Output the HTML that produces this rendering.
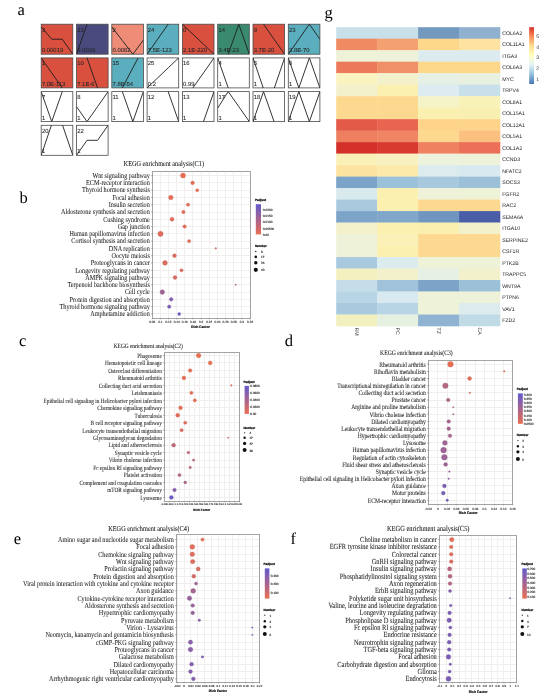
<!DOCTYPE html><html><head><meta charset="utf-8"><style>html,body{margin:0;padding:0;background:#fff;}svg{display:block;will-change:transform;text-rendering:geometricPrecision}.r{font-family:"Liberation Serif",serif;stroke:#262626;stroke-width:0.06px}.a{stroke:#333;stroke-width:0.08px}.L{font-family:"Liberation Serif",serif}.s{font-family:"Liberation Sans",sans-serif}</style></head><body>
<svg width="550" height="699" viewBox="0 0 550 699">
<rect width="550" height="699" fill="#fff"/>
<text x="17.5" y="15.3" class="L" font-size="16.5">a</text>
<defs>
<clipPath id="cp0"><rect x="41.20" y="24.20" width="31.6" height="30.0"/></clipPath>
<clipPath id="cp1"><rect x="76.50" y="24.20" width="31.6" height="30.0"/></clipPath>
<clipPath id="cp2"><rect x="111.80" y="24.20" width="31.6" height="30.0"/></clipPath>
<clipPath id="cp3"><rect x="147.10" y="24.20" width="31.6" height="30.0"/></clipPath>
<clipPath id="cp4"><rect x="182.40" y="24.20" width="31.6" height="30.0"/></clipPath>
<clipPath id="cp5"><rect x="217.70" y="24.20" width="31.6" height="30.0"/></clipPath>
<clipPath id="cp6"><rect x="253.00" y="24.20" width="31.6" height="30.0"/></clipPath>
<clipPath id="cp7"><rect x="288.30" y="24.20" width="31.6" height="30.0"/></clipPath>
<clipPath id="cp8"><rect x="41.20" y="57.90" width="31.6" height="30.0"/></clipPath>
<clipPath id="cp9"><rect x="76.50" y="57.90" width="31.6" height="30.0"/></clipPath>
<clipPath id="cp10"><rect x="111.80" y="57.90" width="31.6" height="30.0"/></clipPath>
<clipPath id="cp11"><rect x="147.10" y="57.90" width="31.6" height="30.0"/></clipPath>
<clipPath id="cp12"><rect x="182.40" y="57.90" width="31.6" height="30.0"/></clipPath>
<clipPath id="cp13"><rect x="217.70" y="57.90" width="31.6" height="30.0"/></clipPath>
<clipPath id="cp14"><rect x="253.00" y="57.90" width="31.6" height="30.0"/></clipPath>
<clipPath id="cp15"><rect x="288.30" y="57.90" width="31.6" height="30.0"/></clipPath>
<clipPath id="cp16"><rect x="41.20" y="91.60" width="31.6" height="30.0"/></clipPath>
<clipPath id="cp17"><rect x="76.50" y="91.60" width="31.6" height="30.0"/></clipPath>
<clipPath id="cp18"><rect x="111.80" y="91.60" width="31.6" height="30.0"/></clipPath>
<clipPath id="cp19"><rect x="147.10" y="91.60" width="31.6" height="30.0"/></clipPath>
<clipPath id="cp20"><rect x="182.40" y="91.60" width="31.6" height="30.0"/></clipPath>
<clipPath id="cp21"><rect x="217.70" y="91.60" width="31.6" height="30.0"/></clipPath>
<clipPath id="cp22"><rect x="253.00" y="91.60" width="31.6" height="30.0"/></clipPath>
<clipPath id="cp23"><rect x="288.30" y="91.60" width="31.6" height="30.0"/></clipPath>
<clipPath id="cp24"><rect x="41.20" y="125.30" width="31.6" height="30.0"/></clipPath>
<clipPath id="cp25"><rect x="76.50" y="125.30" width="31.6" height="30.0"/></clipPath>
</defs>
<rect x="41.20" y="24.20" width="31.6" height="30.0" fill="#d9503f" stroke="#4a4a4a" stroke-width="0.8"/>
<polyline clip-path="url(#cp0)" points="41.20,26.90 51.73,39.20 62.27,39.20 72.80,54.20" fill="none" stroke="#1e1e1e" stroke-width="0.9"/>
<text x="41.90" y="31.60" class="s a" font-size="5.9" fill="#222">3</text>
<text x="41.90" y="52.20" class="s a" font-size="5.9" fill="#222">0.00019</text>
<rect x="76.50" y="24.20" width="31.6" height="30.0" fill="#4b4a7e" stroke="#4a4a4a" stroke-width="0.8"/>
<polyline clip-path="url(#cp1)" points="76.50,54.20 87.03,24.20 97.57,-5.80 108.10,-35.80" fill="none" stroke="#1e1e1e" stroke-width="0.9"/>
<text x="77.20" y="31.60" class="s a" font-size="5.9" fill="#222">21</text>
<text x="77.20" y="52.20" class="s a" font-size="5.9" fill="#222">0.0029</text>
<rect x="111.80" y="24.20" width="31.6" height="30.0" fill="#ee8c78" stroke="#4a4a4a" stroke-width="0.8"/>
<polyline clip-path="url(#cp2)" points="111.80,26.90 122.33,40.55 132.87,54.20 143.40,40.10" fill="none" stroke="#1e1e1e" stroke-width="0.9"/>
<text x="112.50" y="31.60" class="s a" font-size="5.9" fill="#222">2</text>
<text x="112.50" y="52.20" class="s a" font-size="5.9" fill="#222">0.0082</text>
<rect x="147.10" y="24.20" width="31.6" height="30.0" fill="#5aaebd" stroke="#4a4a4a" stroke-width="0.8"/>
<polyline clip-path="url(#cp3)" points="147.10,54.20 157.63,39.20 168.17,24.20 178.70,9.20" fill="none" stroke="#1e1e1e" stroke-width="0.9"/>
<text x="147.80" y="31.60" class="s a" font-size="5.9" fill="#222">24</text>
<text x="147.80" y="52.20" class="s a" font-size="5.9" fill="#222">7.5E-123</text>
<rect x="182.40" y="24.20" width="31.6" height="30.0" fill="#d9503f" stroke="#4a4a4a" stroke-width="0.8"/>
<polyline clip-path="url(#cp4)" points="182.40,24.20 192.93,34.20 203.47,44.20 214.00,54.20" fill="none" stroke="#1e1e1e" stroke-width="0.9"/>
<text x="183.10" y="31.60" class="s a" font-size="5.9" fill="#222">0</text>
<text x="183.10" y="52.20" class="s a" font-size="5.9" fill="#222">2.1E-220</text>
<rect x="217.70" y="24.20" width="31.6" height="30.0" fill="#3a8a70" stroke="#4a4a4a" stroke-width="0.8"/>
<polyline clip-path="url(#cp5)" points="217.70,84.20 228.23,54.20 238.77,24.20 249.30,54.20" fill="none" stroke="#1e1e1e" stroke-width="0.9"/>
<text x="218.40" y="31.60" class="s a" font-size="5.9" fill="#222">14</text>
<text x="218.40" y="52.20" class="s a" font-size="5.9" fill="#222">3.4E-23</text>
<rect x="253.00" y="24.20" width="31.6" height="30.0" fill="#d9503f" stroke="#4a4a4a" stroke-width="0.8"/>
<polyline clip-path="url(#cp6)" points="253.00,-5.80 263.53,24.20 274.07,39.20 284.60,54.20" fill="none" stroke="#1e1e1e" stroke-width="0.9"/>
<text x="253.70" y="31.60" class="s a" font-size="5.9" fill="#222">9</text>
<text x="253.70" y="52.20" class="s a" font-size="5.9" fill="#222">3.7E-20</text>
<rect x="288.30" y="24.20" width="31.6" height="30.0" fill="#5aaebd" stroke="#4a4a4a" stroke-width="0.8"/>
<polyline clip-path="url(#cp7)" points="288.30,54.20 298.83,39.20 309.37,24.20 319.90,39.20" fill="none" stroke="#1e1e1e" stroke-width="0.9"/>
<text x="289.00" y="31.60" class="s a" font-size="5.9" fill="#222">23</text>
<text x="289.00" y="52.20" class="s a" font-size="5.9" fill="#222">3.8E-70</text>
<rect x="41.20" y="57.90" width="31.6" height="30.0" fill="#d9503f" stroke="#4a4a4a" stroke-width="0.8"/>
<polyline clip-path="url(#cp8)" points="41.20,57.90 51.73,72.90 62.27,87.90 72.80,102.90" fill="none" stroke="#1e1e1e" stroke-width="0.9"/>
<text x="41.90" y="65.30" class="s a" font-size="5.9" fill="#222">1</text>
<text x="41.90" y="85.90" class="s a" font-size="5.9" fill="#222">7.0E-113</text>
<rect x="76.50" y="57.90" width="31.6" height="30.0" fill="#d9503f" stroke="#4a4a4a" stroke-width="0.8"/>
<polyline clip-path="url(#cp9)" points="76.50,27.90 87.03,57.90 97.57,87.90 108.10,117.90" fill="none" stroke="#1e1e1e" stroke-width="0.9"/>
<text x="77.20" y="65.30" class="s a" font-size="5.9" fill="#222">10</text>
<text x="77.20" y="85.90" class="s a" font-size="5.9" fill="#222">7.1E-6</text>
<rect x="111.80" y="57.90" width="31.6" height="30.0" fill="#5aaebd" stroke="#4a4a4a" stroke-width="0.8"/>
<polyline clip-path="url(#cp10)" points="111.80,108.00 122.33,87.90 132.87,67.80 143.40,48.00" fill="none" stroke="#1e1e1e" stroke-width="0.9"/>
<text x="112.50" y="65.30" class="s a" font-size="5.9" fill="#222">15</text>
<text x="112.50" y="85.90" class="s a" font-size="5.9" fill="#222">7.8E-54</text>
<rect x="147.10" y="57.90" width="31.6" height="30.0" fill="#ffffff" stroke="#4a4a4a" stroke-width="0.8"/>
<polyline clip-path="url(#cp11)" points="147.10,87.90 157.63,77.90 168.17,67.90 178.70,57.90" fill="none" stroke="#1e1e1e" stroke-width="0.9"/>
<text x="147.80" y="65.30" class="s a" font-size="5.9" fill="#222">25</text>
<text x="147.80" y="85.90" class="s a" font-size="5.9" fill="#222">0.2</text>
<rect x="182.40" y="57.90" width="31.6" height="30.0" fill="#ffffff" stroke="#4a4a4a" stroke-width="0.8"/>
<polyline clip-path="url(#cp12)" points="182.40,102.90 192.93,87.90 203.47,72.90 214.00,57.90" fill="none" stroke="#1e1e1e" stroke-width="0.9"/>
<text x="183.10" y="65.30" class="s a" font-size="5.9" fill="#222">16</text>
<text x="183.10" y="85.90" class="s a" font-size="5.9" fill="#222">0.99</text>
<rect x="217.70" y="57.90" width="31.6" height="30.0" fill="#ffffff" stroke="#4a4a4a" stroke-width="0.8"/>
<polyline clip-path="url(#cp13)" points="217.70,57.90 228.23,87.90 238.77,117.90 249.30,117.90" fill="none" stroke="#1e1e1e" stroke-width="0.9"/>
<text x="218.40" y="65.30" class="s a" font-size="5.9" fill="#222">4</text>
<text x="218.40" y="85.90" class="s a" font-size="5.9" fill="#222">1</text>
<rect x="253.00" y="57.90" width="31.6" height="30.0" fill="#ffffff" stroke="#4a4a4a" stroke-width="0.8"/>
<polyline clip-path="url(#cp14)" points="253.00,57.90 263.53,88.80 274.07,88.80 284.60,57.90" fill="none" stroke="#1e1e1e" stroke-width="0.9"/>
<text x="253.70" y="65.30" class="s a" font-size="5.9" fill="#222">5</text>
<text x="253.70" y="85.90" class="s a" font-size="5.9" fill="#222">1</text>
<rect x="288.30" y="57.90" width="31.6" height="30.0" fill="#ffffff" stroke="#4a4a4a" stroke-width="0.8"/>
<polyline clip-path="url(#cp15)" points="288.30,57.90 298.83,87.90 309.37,57.90 319.90,87.90" fill="none" stroke="#1e1e1e" stroke-width="0.9"/>
<text x="289.00" y="65.30" class="s a" font-size="5.9" fill="#222">6</text>
<text x="289.00" y="85.90" class="s a" font-size="5.9" fill="#222">1</text>
<rect x="41.20" y="91.60" width="31.6" height="30.0" fill="#ffffff" stroke="#4a4a4a" stroke-width="0.8"/>
<polyline clip-path="url(#cp16)" points="41.20,91.60 51.73,121.60 62.27,91.60 72.80,61.60" fill="none" stroke="#1e1e1e" stroke-width="0.9"/>
<text x="41.90" y="99.00" class="s a" font-size="5.9" fill="#222">7</text>
<text x="41.90" y="119.60" class="s a" font-size="5.9" fill="#222">1</text>
<rect x="76.50" y="91.60" width="31.6" height="30.0" fill="#ffffff" stroke="#4a4a4a" stroke-width="0.8"/>
<polyline clip-path="url(#cp17)" points="76.50,106.60 87.03,121.60 97.57,106.60 108.10,91.60" fill="none" stroke="#1e1e1e" stroke-width="0.9"/>
<text x="77.20" y="99.00" class="s a" font-size="5.9" fill="#222">8</text>
<text x="77.20" y="119.60" class="s a" font-size="5.9" fill="#222">1</text>
<rect x="111.80" y="91.60" width="31.6" height="30.0" fill="#ffffff" stroke="#4a4a4a" stroke-width="0.8"/>
<polyline clip-path="url(#cp18)" points="111.80,61.60 122.33,91.60 132.87,121.60 143.40,91.60" fill="none" stroke="#1e1e1e" stroke-width="0.9"/>
<text x="112.50" y="99.00" class="s a" font-size="5.9" fill="#222">11</text>
<text x="112.50" y="119.60" class="s a" font-size="5.9" fill="#222">1</text>
<rect x="147.10" y="91.60" width="31.6" height="30.0" fill="#ffffff" stroke="#4a4a4a" stroke-width="0.8"/>
<polyline clip-path="url(#cp19)" points="147.10,31.60 157.63,61.60 168.17,91.60 178.70,121.60" fill="none" stroke="#1e1e1e" stroke-width="0.9"/>
<text x="147.80" y="99.00" class="s a" font-size="5.9" fill="#222">12</text>
<text x="147.80" y="119.60" class="s a" font-size="5.9" fill="#222">1</text>
<rect x="182.40" y="91.60" width="31.6" height="30.0" fill="#ffffff" stroke="#4a4a4a" stroke-width="0.8"/>
<polyline clip-path="url(#cp20)" points="182.40,181.60 192.93,151.60 203.47,121.60 214.00,91.60" fill="none" stroke="#1e1e1e" stroke-width="0.9"/>
<text x="183.10" y="99.00" class="s a" font-size="5.9" fill="#222">13</text>
<text x="183.10" y="119.60" class="s a" font-size="5.9" fill="#222">1</text>
<rect x="217.70" y="91.60" width="31.6" height="30.0" fill="#ffffff" stroke="#4a4a4a" stroke-width="0.8"/>
<polyline clip-path="url(#cp21)" points="217.70,108.10 228.23,91.60 238.77,106.60 249.30,121.60" fill="none" stroke="#1e1e1e" stroke-width="0.9"/>
<text x="218.40" y="99.00" class="s a" font-size="5.9" fill="#222">17</text>
<text x="218.40" y="119.60" class="s a" font-size="5.9" fill="#222">1</text>
<rect x="253.00" y="91.60" width="31.6" height="30.0" fill="#ffffff" stroke="#4a4a4a" stroke-width="0.8"/>
<polyline clip-path="url(#cp22)" points="253.00,121.60 263.53,91.60 274.07,121.60 284.60,151.60" fill="none" stroke="#1e1e1e" stroke-width="0.9"/>
<text x="253.70" y="99.00" class="s a" font-size="5.9" fill="#222">18</text>
<text x="253.70" y="119.60" class="s a" font-size="5.9" fill="#222">1</text>
<rect x="288.30" y="91.60" width="31.6" height="30.0" fill="#ffffff" stroke="#4a4a4a" stroke-width="0.8"/>
<polyline clip-path="url(#cp23)" points="288.30,121.60 298.83,91.60 309.37,121.60 319.90,91.60" fill="none" stroke="#1e1e1e" stroke-width="0.9"/>
<text x="289.00" y="99.00" class="s a" font-size="5.9" fill="#222">19</text>
<text x="289.00" y="119.60" class="s a" font-size="5.9" fill="#222">1</text>
<rect x="41.20" y="125.30" width="31.6" height="30.0" fill="#ffffff" stroke="#4a4a4a" stroke-width="0.8"/>
<polyline clip-path="url(#cp24)" points="41.20,155.30 51.73,124.40 62.27,124.40 72.80,155.30" fill="none" stroke="#1e1e1e" stroke-width="0.9"/>
<text x="41.90" y="132.70" class="s a" font-size="5.9" fill="#222">20</text>
<text x="41.90" y="153.30" class="s a" font-size="5.9" fill="#222">1</text>
<rect x="76.50" y="125.30" width="31.6" height="30.0" fill="#ffffff" stroke="#4a4a4a" stroke-width="0.8"/>
<polyline clip-path="url(#cp25)" points="76.50,155.30 87.03,140.30 97.57,140.30 108.10,125.30" fill="none" stroke="#1e1e1e" stroke-width="0.9"/>
<text x="77.20" y="132.70" class="s a" font-size="5.9" fill="#222">22</text>
<text x="77.20" y="153.30" class="s a" font-size="5.9" fill="#222">1</text>
<rect x="152.5" y="171.5" width="98.0" height="147.0" fill="#fff"/>
<line x1="152.50" y1="171.5" x2="152.50" y2="318.5" stroke="#f1eeee" stroke-width="1"/>
<line x1="160.50" y1="171.5" x2="160.50" y2="318.5" stroke="#f1eeee" stroke-width="1"/>
<line x1="168.50" y1="171.5" x2="168.50" y2="318.5" stroke="#f1eeee" stroke-width="1"/>
<line x1="176.50" y1="171.5" x2="176.50" y2="318.5" stroke="#f1eeee" stroke-width="1"/>
<line x1="184.50" y1="171.5" x2="184.50" y2="318.5" stroke="#f1eeee" stroke-width="1"/>
<line x1="192.50" y1="171.5" x2="192.50" y2="318.5" stroke="#f1eeee" stroke-width="1"/>
<line x1="201.50" y1="171.5" x2="201.50" y2="318.5" stroke="#f1eeee" stroke-width="1"/>
<line x1="209.50" y1="171.5" x2="209.50" y2="318.5" stroke="#f1eeee" stroke-width="1"/>
<line x1="217.50" y1="171.5" x2="217.50" y2="318.5" stroke="#f1eeee" stroke-width="1"/>
<line x1="225.50" y1="171.5" x2="225.50" y2="318.5" stroke="#f1eeee" stroke-width="1"/>
<line x1="233.50" y1="171.5" x2="233.50" y2="318.5" stroke="#f1eeee" stroke-width="1"/>
<line x1="241.50" y1="171.5" x2="241.50" y2="318.5" stroke="#f1eeee" stroke-width="1"/>
<line x1="250.50" y1="171.5" x2="250.50" y2="318.5" stroke="#f1eeee" stroke-width="1"/>
<line x1="152.5" y1="175.50" x2="250.5" y2="175.50" stroke="#f1eeee" stroke-width="1"/>
<line x1="152.5" y1="182.50" x2="250.5" y2="182.50" stroke="#f1eeee" stroke-width="1"/>
<line x1="152.5" y1="190.50" x2="250.5" y2="190.50" stroke="#f1eeee" stroke-width="1"/>
<line x1="152.5" y1="197.50" x2="250.5" y2="197.50" stroke="#f1eeee" stroke-width="1"/>
<line x1="152.5" y1="204.50" x2="250.5" y2="204.50" stroke="#f1eeee" stroke-width="1"/>
<line x1="152.5" y1="212.50" x2="250.5" y2="212.50" stroke="#f1eeee" stroke-width="1"/>
<line x1="152.5" y1="219.50" x2="250.5" y2="219.50" stroke="#f1eeee" stroke-width="1"/>
<line x1="152.5" y1="226.50" x2="250.5" y2="226.50" stroke="#f1eeee" stroke-width="1"/>
<line x1="152.5" y1="233.50" x2="250.5" y2="233.50" stroke="#f1eeee" stroke-width="1"/>
<line x1="152.5" y1="241.50" x2="250.5" y2="241.50" stroke="#f1eeee" stroke-width="1"/>
<line x1="152.5" y1="248.50" x2="250.5" y2="248.50" stroke="#f1eeee" stroke-width="1"/>
<line x1="152.5" y1="255.50" x2="250.5" y2="255.50" stroke="#f1eeee" stroke-width="1"/>
<line x1="152.5" y1="262.50" x2="250.5" y2="262.50" stroke="#f1eeee" stroke-width="1"/>
<line x1="152.5" y1="270.50" x2="250.5" y2="270.50" stroke="#f1eeee" stroke-width="1"/>
<line x1="152.5" y1="277.50" x2="250.5" y2="277.50" stroke="#f1eeee" stroke-width="1"/>
<line x1="152.5" y1="284.50" x2="250.5" y2="284.50" stroke="#f1eeee" stroke-width="1"/>
<line x1="152.5" y1="292.50" x2="250.5" y2="292.50" stroke="#f1eeee" stroke-width="1"/>
<line x1="152.5" y1="299.50" x2="250.5" y2="299.50" stroke="#f1eeee" stroke-width="1"/>
<line x1="152.5" y1="306.50" x2="250.5" y2="306.50" stroke="#f1eeee" stroke-width="1"/>
<line x1="152.5" y1="313.50" x2="250.5" y2="313.50" stroke="#f1eeee" stroke-width="1"/>
<rect x="152.5" y="171.5" width="98.0" height="147.0" fill="none" stroke="#a4a4a4" stroke-width="1"/>
<line x1="151.2" y1="175.60" x2="152.5" y2="175.60" stroke="#555" stroke-width="0.5"/>
<text transform="translate(149.80,177.90) scale(1,1.22)" text-anchor="end" class="r" font-size="6.2" fill="#262626">Wnt signaling pathway</text>
<circle cx="183.00" cy="175.60" r="2.5" fill="#ea6e52" stroke="#c75e46" stroke-width="0.35"/>
<line x1="151.2" y1="182.88" x2="152.5" y2="182.88" stroke="#555" stroke-width="0.5"/>
<text transform="translate(149.80,185.18) scale(1,1.22)" text-anchor="end" class="r" font-size="6.2" fill="#262626">ECM-receptor interaction</text>
<circle cx="192.60" cy="182.88" r="1.8" fill="#e76e54" stroke="#c45e47" stroke-width="0.35"/>
<line x1="151.2" y1="190.16" x2="152.5" y2="190.16" stroke="#555" stroke-width="0.5"/>
<text transform="translate(149.80,192.46) scale(1,1.22)" text-anchor="end" class="r" font-size="6.2" fill="#262626">Thyroid hormone synthesis</text>
<circle cx="197.20" cy="190.16" r="1.5" fill="#ea6e52" stroke="#c75e46" stroke-width="0.35"/>
<line x1="151.2" y1="197.44" x2="152.5" y2="197.44" stroke="#555" stroke-width="0.5"/>
<text transform="translate(149.80,199.74) scale(1,1.22)" text-anchor="end" class="r" font-size="6.2" fill="#262626">Focal adhesion</text>
<circle cx="170.80" cy="197.44" r="2.3" fill="#e66d56" stroke="#c45d49" stroke-width="0.35"/>
<line x1="151.2" y1="204.72" x2="152.5" y2="204.72" stroke="#555" stroke-width="0.5"/>
<text transform="translate(149.80,207.02) scale(1,1.22)" text-anchor="end" class="r" font-size="6.2" fill="#262626">Insulin secretion</text>
<circle cx="188.00" cy="204.72" r="1.6" fill="#e66d56" stroke="#c45d49" stroke-width="0.35"/>
<line x1="151.2" y1="212.00" x2="152.5" y2="212.00" stroke="#555" stroke-width="0.5"/>
<text transform="translate(149.80,214.30) scale(1,1.22)" text-anchor="end" class="r" font-size="6.2" fill="#262626">Aldosterone synthesis and secretion</text>
<circle cx="183.40" cy="212.00" r="1.7" fill="#e36d58" stroke="#c15d4b" stroke-width="0.35"/>
<line x1="151.2" y1="219.28" x2="152.5" y2="219.28" stroke="#555" stroke-width="0.5"/>
<text transform="translate(149.80,221.58) scale(1,1.22)" text-anchor="end" class="r" font-size="6.2" fill="#262626">Cushing syndrome</text>
<circle cx="172.00" cy="219.28" r="2.0" fill="#e36d58" stroke="#c15d4b" stroke-width="0.35"/>
<line x1="151.2" y1="226.56" x2="152.5" y2="226.56" stroke="#555" stroke-width="0.5"/>
<text transform="translate(149.80,228.86) scale(1,1.22)" text-anchor="end" class="r" font-size="6.2" fill="#262626">Gap junction</text>
<circle cx="184.60" cy="226.56" r="1.7" fill="#e56d57" stroke="#c35d4a" stroke-width="0.35"/>
<line x1="151.2" y1="233.84" x2="152.5" y2="233.84" stroke="#555" stroke-width="0.5"/>
<text transform="translate(149.80,236.14) scale(1,1.22)" text-anchor="end" class="r" font-size="6.2" fill="#262626">Human papillomavirus infection</text>
<circle cx="160.50" cy="233.84" r="2.6" fill="#df6c5c" stroke="#be5c4e" stroke-width="0.35"/>
<line x1="151.2" y1="241.12" x2="152.5" y2="241.12" stroke="#555" stroke-width="0.5"/>
<text transform="translate(149.80,243.42) scale(1,1.22)" text-anchor="end" class="r" font-size="6.2" fill="#262626">Cortisol synthesis and secretion</text>
<circle cx="189.10" cy="241.12" r="1.6" fill="#e36d58" stroke="#c15d4b" stroke-width="0.35"/>
<line x1="151.2" y1="248.40" x2="152.5" y2="248.40" stroke="#555" stroke-width="0.5"/>
<text transform="translate(149.80,250.70) scale(1,1.22)" text-anchor="end" class="r" font-size="6.2" fill="#262626">DNA replication</text>
<circle cx="215.80" cy="248.40" r="0.8" fill="#dc6c5e" stroke="#bb5c50" stroke-width="0.35"/>
<line x1="151.2" y1="255.68" x2="152.5" y2="255.68" stroke="#555" stroke-width="0.5"/>
<text transform="translate(149.80,257.98) scale(1,1.22)" text-anchor="end" class="r" font-size="6.2" fill="#262626">Oocyte meiosis</text>
<circle cx="174.50" cy="255.68" r="1.9" fill="#dc6c5e" stroke="#bb5c50" stroke-width="0.35"/>
<line x1="151.2" y1="262.96" x2="152.5" y2="262.96" stroke="#555" stroke-width="0.5"/>
<text transform="translate(149.80,265.26) scale(1,1.22)" text-anchor="end" class="r" font-size="6.2" fill="#262626">Proteoglycans in cancer</text>
<circle cx="165.00" cy="262.96" r="2.4" fill="#dc6c5e" stroke="#bb5c50" stroke-width="0.35"/>
<line x1="151.2" y1="270.24" x2="152.5" y2="270.24" stroke="#555" stroke-width="0.5"/>
<text transform="translate(149.80,272.54) scale(1,1.22)" text-anchor="end" class="r" font-size="6.2" fill="#262626">Longevity regulating pathway</text>
<circle cx="181.50" cy="270.24" r="1.6" fill="#da6c61" stroke="#b95c52" stroke-width="0.35"/>
<line x1="151.2" y1="277.52" x2="152.5" y2="277.52" stroke="#555" stroke-width="0.5"/>
<text transform="translate(149.80,279.82) scale(1,1.22)" text-anchor="end" class="r" font-size="6.2" fill="#262626">AMPK signaling pathway</text>
<circle cx="175.00" cy="277.52" r="1.9" fill="#da6c61" stroke="#b95c52" stroke-width="0.35"/>
<line x1="151.2" y1="284.80" x2="152.5" y2="284.80" stroke="#555" stroke-width="0.5"/>
<text transform="translate(149.80,287.10) scale(1,1.22)" text-anchor="end" class="r" font-size="6.2" fill="#262626">Terpenoid backbone biosynthesis</text>
<circle cx="235.70" cy="284.80" r="0.7" fill="#c16877" stroke="#a45865" stroke-width="0.35"/>
<line x1="151.2" y1="292.08" x2="152.5" y2="292.08" stroke="#555" stroke-width="0.5"/>
<text transform="translate(149.80,294.38) scale(1,1.22)" text-anchor="end" class="r" font-size="6.2" fill="#262626">Cell cycle</text>
<circle cx="162.30" cy="292.08" r="2.3" fill="#9f6396" stroke="#875480" stroke-width="0.35"/>
<line x1="151.2" y1="299.36" x2="152.5" y2="299.36" stroke="#555" stroke-width="0.5"/>
<text transform="translate(149.80,301.66) scale(1,1.22)" text-anchor="end" class="r" font-size="6.2" fill="#262626">Protein digestion and absorption</text>
<circle cx="171.20" cy="299.36" r="1.8" fill="#845faf" stroke="#705195" stroke-width="0.35"/>
<line x1="151.2" y1="306.64" x2="152.5" y2="306.64" stroke="#555" stroke-width="0.5"/>
<text transform="translate(149.80,308.94) scale(1,1.22)" text-anchor="end" class="r" font-size="6.2" fill="#262626">Thyroid hormone signaling pathway</text>
<circle cx="169.20" cy="306.64" r="1.7" fill="#7d5eb5" stroke="#6a509a" stroke-width="0.35"/>
<line x1="151.2" y1="313.92" x2="152.5" y2="313.92" stroke="#555" stroke-width="0.5"/>
<text transform="translate(149.80,316.22) scale(1,1.22)" text-anchor="end" class="r" font-size="6.2" fill="#262626">Amphetamine addiction</text>
<circle cx="179.20" cy="313.92" r="1.5" fill="#705cc2" stroke="#5f4ea5" stroke-width="0.35"/>
<line x1="152.20" y1="318.5" x2="152.20" y2="319.5" stroke="#555" stroke-width="0.4"/>
<text x="152.20" y="323.12" text-anchor="middle" class="s" font-size="3.1" fill="#333" stroke="#333" stroke-width="0.12">0.08</text>
<line x1="160.36" y1="318.5" x2="160.36" y2="319.5" stroke="#555" stroke-width="0.4"/>
<text x="160.36" y="323.12" text-anchor="middle" class="s" font-size="3.1" fill="#333" stroke="#333" stroke-width="0.12">0.1</text>
<line x1="168.52" y1="318.5" x2="168.52" y2="319.5" stroke="#555" stroke-width="0.4"/>
<text x="168.52" y="323.12" text-anchor="middle" class="s" font-size="3.1" fill="#333" stroke="#333" stroke-width="0.12">0.12</text>
<line x1="176.67" y1="318.5" x2="176.67" y2="319.5" stroke="#555" stroke-width="0.4"/>
<text x="176.67" y="323.12" text-anchor="middle" class="s" font-size="3.1" fill="#333" stroke="#333" stroke-width="0.12">0.14</text>
<line x1="184.83" y1="318.5" x2="184.83" y2="319.5" stroke="#555" stroke-width="0.4"/>
<text x="184.83" y="323.12" text-anchor="middle" class="s" font-size="3.1" fill="#333" stroke="#333" stroke-width="0.12">0.16</text>
<line x1="192.99" y1="318.5" x2="192.99" y2="319.5" stroke="#555" stroke-width="0.4"/>
<text x="192.99" y="323.12" text-anchor="middle" class="s" font-size="3.1" fill="#333" stroke="#333" stroke-width="0.12">0.18</text>
<line x1="201.15" y1="318.5" x2="201.15" y2="319.5" stroke="#555" stroke-width="0.4"/>
<text x="201.15" y="323.12" text-anchor="middle" class="s" font-size="3.1" fill="#333" stroke="#333" stroke-width="0.12">0.2</text>
<line x1="209.31" y1="318.5" x2="209.31" y2="319.5" stroke="#555" stroke-width="0.4"/>
<text x="209.31" y="323.12" text-anchor="middle" class="s" font-size="3.1" fill="#333" stroke="#333" stroke-width="0.12">0.22</text>
<line x1="217.47" y1="318.5" x2="217.47" y2="319.5" stroke="#555" stroke-width="0.4"/>
<text x="217.47" y="323.12" text-anchor="middle" class="s" font-size="3.1" fill="#333" stroke="#333" stroke-width="0.12">0.24</text>
<line x1="225.62" y1="318.5" x2="225.62" y2="319.5" stroke="#555" stroke-width="0.4"/>
<text x="225.62" y="323.12" text-anchor="middle" class="s" font-size="3.1" fill="#333" stroke="#333" stroke-width="0.12">0.26</text>
<line x1="233.78" y1="318.5" x2="233.78" y2="319.5" stroke="#555" stroke-width="0.4"/>
<text x="233.78" y="323.12" text-anchor="middle" class="s" font-size="3.1" fill="#333" stroke="#333" stroke-width="0.12">0.28</text>
<line x1="241.94" y1="318.5" x2="241.94" y2="319.5" stroke="#555" stroke-width="0.4"/>
<text x="241.94" y="323.12" text-anchor="middle" class="s" font-size="3.1" fill="#333" stroke="#333" stroke-width="0.12">0.3</text>
<line x1="250.10" y1="318.5" x2="250.10" y2="319.5" stroke="#555" stroke-width="0.4"/>
<text x="250.10" y="323.12" text-anchor="middle" class="s" font-size="3.1" fill="#333" stroke="#333" stroke-width="0.12">0.32</text>
<text x="200.4" y="328.14" text-anchor="middle" class="s" font-size="3.45" font-weight="bold" fill="#111" stroke="#111" stroke-width="0.18">Rich Factor</text>
<text transform="translate(163.8,166.0) scale(1,1.2)" text-anchor="middle" class="r" font-size="6.27" fill="#111" stroke="#111" stroke-width="0.2">KEGG enrichment analysis(C1)</text>
<defs><linearGradient id="gb" x1="0" y1="0" x2="0" y2="1"><stop offset="0" stop-color="#625ace"/><stop offset="1" stop-color="#ea6e52"/></linearGradient></defs>
<text x="254.9" y="201.20" class="s" font-size="3.1" font-weight="bold" fill="#111" stroke="#111" stroke-width="0.22">Padjust</text>
<rect x="255.80" y="204.2" width="5.2" height="30.20" fill="url(#gb)"/>
<text x="262.9" y="210.80" class="s" font-size="3.1" fill="#222" stroke="#222" stroke-width="0.12">0.0200</text>
<line x1="261.60" y1="209.30" x2="262.50" y2="209.30" stroke="#444" stroke-width="0.35"/>
<text x="262.9" y="217.08" class="s" font-size="3.1" fill="#222" stroke="#222" stroke-width="0.12">0.0150</text>
<line x1="261.60" y1="215.58" x2="262.50" y2="215.58" stroke="#444" stroke-width="0.35"/>
<text x="262.9" y="223.35" class="s" font-size="3.1" fill="#222" stroke="#222" stroke-width="0.12">0.0100</text>
<line x1="261.60" y1="221.85" x2="262.50" y2="221.85" stroke="#444" stroke-width="0.35"/>
<text x="262.9" y="229.62" class="s" font-size="3.1" fill="#222" stroke="#222" stroke-width="0.12">0.00500</text>
<line x1="261.60" y1="228.12" x2="262.50" y2="228.12" stroke="#444" stroke-width="0.35"/>
<text x="262.9" y="235.90" class="s" font-size="3.1" fill="#222" stroke="#222" stroke-width="0.12">0.00</text>
<line x1="261.60" y1="234.40" x2="262.50" y2="234.40" stroke="#444" stroke-width="0.35"/>
<text x="254.9" y="246.60" class="s" font-size="3.1" font-weight="bold" fill="#111" stroke="#111" stroke-width="0.22">Number</text>
<circle cx="255.8" cy="251.50" r="0.7" fill="#111"/>
<text x="261.0" y="253.00" class="s" font-size="3.1" fill="#222" stroke="#222" stroke-width="0.12">8</text>
<circle cx="255.8" cy="256.90" r="1.3" fill="#111"/>
<text x="261.0" y="258.40" class="s" font-size="3.1" fill="#222" stroke="#222" stroke-width="0.12">17</text>
<circle cx="255.8" cy="262.70" r="1.7" fill="#111"/>
<text x="261.0" y="264.20" class="s" font-size="3.1" fill="#222" stroke="#222" stroke-width="0.12">26</text>
<circle cx="255.8" cy="269.80" r="2.1" fill="#111"/>
<text x="261.0" y="271.30" class="s" font-size="3.1" fill="#222" stroke="#222" stroke-width="0.12">40</text>
<rect x="164.5" y="352.5" width="75.0" height="149.0" fill="#fff"/>
<line x1="164.50" y1="352.5" x2="164.50" y2="501.5" stroke="#f1eeee" stroke-width="1"/>
<line x1="169.50" y1="352.5" x2="169.50" y2="501.5" stroke="#f1eeee" stroke-width="1"/>
<line x1="174.50" y1="352.5" x2="174.50" y2="501.5" stroke="#f1eeee" stroke-width="1"/>
<line x1="179.50" y1="352.5" x2="179.50" y2="501.5" stroke="#f1eeee" stroke-width="1"/>
<line x1="184.50" y1="352.5" x2="184.50" y2="501.5" stroke="#f1eeee" stroke-width="1"/>
<line x1="189.50" y1="352.5" x2="189.50" y2="501.5" stroke="#f1eeee" stroke-width="1"/>
<line x1="194.50" y1="352.5" x2="194.50" y2="501.5" stroke="#f1eeee" stroke-width="1"/>
<line x1="199.50" y1="352.5" x2="199.50" y2="501.5" stroke="#f1eeee" stroke-width="1"/>
<line x1="204.50" y1="352.5" x2="204.50" y2="501.5" stroke="#f1eeee" stroke-width="1"/>
<line x1="209.50" y1="352.5" x2="209.50" y2="501.5" stroke="#f1eeee" stroke-width="1"/>
<line x1="214.50" y1="352.5" x2="214.50" y2="501.5" stroke="#f1eeee" stroke-width="1"/>
<line x1="219.50" y1="352.5" x2="219.50" y2="501.5" stroke="#f1eeee" stroke-width="1"/>
<line x1="224.50" y1="352.5" x2="224.50" y2="501.5" stroke="#f1eeee" stroke-width="1"/>
<line x1="229.50" y1="352.5" x2="229.50" y2="501.5" stroke="#f1eeee" stroke-width="1"/>
<line x1="234.50" y1="352.5" x2="234.50" y2="501.5" stroke="#f1eeee" stroke-width="1"/>
<line x1="239.50" y1="352.5" x2="239.50" y2="501.5" stroke="#f1eeee" stroke-width="1"/>
<line x1="164.5" y1="355.50" x2="239.5" y2="355.50" stroke="#f1eeee" stroke-width="1"/>
<line x1="164.5" y1="362.50" x2="239.5" y2="362.50" stroke="#f1eeee" stroke-width="1"/>
<line x1="164.5" y1="370.50" x2="239.5" y2="370.50" stroke="#f1eeee" stroke-width="1"/>
<line x1="164.5" y1="377.50" x2="239.5" y2="377.50" stroke="#f1eeee" stroke-width="1"/>
<line x1="164.5" y1="385.50" x2="239.5" y2="385.50" stroke="#f1eeee" stroke-width="1"/>
<line x1="164.5" y1="392.50" x2="239.5" y2="392.50" stroke="#f1eeee" stroke-width="1"/>
<line x1="164.5" y1="400.50" x2="239.5" y2="400.50" stroke="#f1eeee" stroke-width="1"/>
<line x1="164.5" y1="407.50" x2="239.5" y2="407.50" stroke="#f1eeee" stroke-width="1"/>
<line x1="164.5" y1="415.50" x2="239.5" y2="415.50" stroke="#f1eeee" stroke-width="1"/>
<line x1="164.5" y1="422.50" x2="239.5" y2="422.50" stroke="#f1eeee" stroke-width="1"/>
<line x1="164.5" y1="430.50" x2="239.5" y2="430.50" stroke="#f1eeee" stroke-width="1"/>
<line x1="164.5" y1="437.50" x2="239.5" y2="437.50" stroke="#f1eeee" stroke-width="1"/>
<line x1="164.5" y1="445.50" x2="239.5" y2="445.50" stroke="#f1eeee" stroke-width="1"/>
<line x1="164.5" y1="452.50" x2="239.5" y2="452.50" stroke="#f1eeee" stroke-width="1"/>
<line x1="164.5" y1="460.50" x2="239.5" y2="460.50" stroke="#f1eeee" stroke-width="1"/>
<line x1="164.5" y1="467.50" x2="239.5" y2="467.50" stroke="#f1eeee" stroke-width="1"/>
<line x1="164.5" y1="475.50" x2="239.5" y2="475.50" stroke="#f1eeee" stroke-width="1"/>
<line x1="164.5" y1="482.50" x2="239.5" y2="482.50" stroke="#f1eeee" stroke-width="1"/>
<line x1="164.5" y1="489.50" x2="239.5" y2="489.50" stroke="#f1eeee" stroke-width="1"/>
<line x1="164.5" y1="497.50" x2="239.5" y2="497.50" stroke="#f1eeee" stroke-width="1"/>
<rect x="164.5" y="352.5" width="75.0" height="149.0" fill="none" stroke="#a4a4a4" stroke-width="1"/>
<line x1="163.2" y1="355.50" x2="164.5" y2="355.50" stroke="#555" stroke-width="0.5"/>
<text transform="translate(161.80,357.80) scale(1,1.22)" text-anchor="end" class="r" font-size="5.3" fill="#262626">Phagosome</text>
<circle cx="198.60" cy="355.50" r="2.3" fill="#ea6e52" stroke="#c75e46" stroke-width="0.35"/>
<line x1="163.2" y1="362.97" x2="164.5" y2="362.97" stroke="#555" stroke-width="0.5"/>
<text transform="translate(161.80,365.27) scale(1,1.22)" text-anchor="end" class="r" font-size="5.3" fill="#262626">Hematopoietic cell lineage</text>
<circle cx="210.20" cy="362.97" r="1.9" fill="#ea6e52" stroke="#c75e46" stroke-width="0.35"/>
<line x1="163.2" y1="370.44" x2="164.5" y2="370.44" stroke="#555" stroke-width="0.5"/>
<text transform="translate(161.80,372.74) scale(1,1.22)" text-anchor="end" class="r" font-size="5.3" fill="#262626">Osteoclast differentiation</text>
<circle cx="190.20" cy="370.44" r="1.8" fill="#e76e54" stroke="#c45e47" stroke-width="0.35"/>
<line x1="163.2" y1="377.91" x2="164.5" y2="377.91" stroke="#555" stroke-width="0.5"/>
<text transform="translate(161.80,380.21) scale(1,1.22)" text-anchor="end" class="r" font-size="5.3" fill="#262626">Rheumatoid arthritis</text>
<circle cx="183.90" cy="377.91" r="1.9" fill="#e76e54" stroke="#c45e47" stroke-width="0.35"/>
<line x1="163.2" y1="385.38" x2="164.5" y2="385.38" stroke="#555" stroke-width="0.5"/>
<text transform="translate(161.80,387.68) scale(1,1.22)" text-anchor="end" class="r" font-size="5.3" fill="#262626">Collecting duct acid secretion</text>
<circle cx="231.40" cy="385.38" r="0.8" fill="#e76e54" stroke="#c45e47" stroke-width="0.35"/>
<line x1="163.2" y1="392.85" x2="164.5" y2="392.85" stroke="#555" stroke-width="0.5"/>
<text transform="translate(161.80,395.15) scale(1,1.22)" text-anchor="end" class="r" font-size="5.3" fill="#262626">Leishmaniasis</text>
<circle cx="191.40" cy="392.85" r="1.6" fill="#e66d56" stroke="#c45d49" stroke-width="0.35"/>
<line x1="163.2" y1="400.32" x2="164.5" y2="400.32" stroke="#555" stroke-width="0.5"/>
<text transform="translate(161.80,402.62) scale(1,1.22)" text-anchor="end" class="r" font-size="5.3" fill="#262626">Epithelial cell signaling in Helicobacter pylori infection</text>
<circle cx="194.80" cy="400.32" r="1.6" fill="#e66d56" stroke="#c45d49" stroke-width="0.35"/>
<line x1="163.2" y1="407.79" x2="164.5" y2="407.79" stroke="#555" stroke-width="0.5"/>
<text transform="translate(161.80,410.09) scale(1,1.22)" text-anchor="end" class="r" font-size="5.3" fill="#262626">Chemokine signaling pathway</text>
<circle cx="180.50" cy="407.79" r="1.9" fill="#e56d57" stroke="#c35d4a" stroke-width="0.35"/>
<line x1="163.2" y1="415.26" x2="164.5" y2="415.26" stroke="#555" stroke-width="0.5"/>
<text transform="translate(161.80,417.56) scale(1,1.22)" text-anchor="end" class="r" font-size="5.3" fill="#262626">Tuberculosis</text>
<circle cx="177.70" cy="415.26" r="1.9" fill="#e56d57" stroke="#c35d4a" stroke-width="0.35"/>
<line x1="163.2" y1="422.73" x2="164.5" y2="422.73" stroke="#555" stroke-width="0.5"/>
<text transform="translate(161.80,425.03) scale(1,1.22)" text-anchor="end" class="r" font-size="5.3" fill="#262626">B cell receptor signaling pathway</text>
<circle cx="185.20" cy="422.73" r="1.6" fill="#df6c5c" stroke="#be5c4e" stroke-width="0.35"/>
<line x1="163.2" y1="430.20" x2="164.5" y2="430.20" stroke="#555" stroke-width="0.5"/>
<text transform="translate(161.80,432.50) scale(1,1.22)" text-anchor="end" class="r" font-size="5.3" fill="#262626">Leukocyte transendothelial migration</text>
<circle cx="181.60" cy="430.20" r="1.6" fill="#da6c61" stroke="#b95c52" stroke-width="0.35"/>
<line x1="163.2" y1="437.67" x2="164.5" y2="437.67" stroke="#555" stroke-width="0.5"/>
<text transform="translate(161.80,439.97) scale(1,1.22)" text-anchor="end" class="r" font-size="5.3" fill="#262626">Glycosaminoglycan degradation</text>
<circle cx="228.20" cy="437.67" r="0.7" fill="#cf6a6b" stroke="#b05a5b" stroke-width="0.35"/>
<line x1="163.2" y1="445.14" x2="164.5" y2="445.14" stroke="#555" stroke-width="0.5"/>
<text transform="translate(161.80,447.44) scale(1,1.22)" text-anchor="end" class="r" font-size="5.3" fill="#262626">Lipid and atherosclerosis</text>
<circle cx="173.60" cy="445.14" r="1.9" fill="#c16877" stroke="#a45865" stroke-width="0.35"/>
<line x1="163.2" y1="452.61" x2="164.5" y2="452.61" stroke="#555" stroke-width="0.5"/>
<text transform="translate(161.80,454.91) scale(1,1.22)" text-anchor="end" class="r" font-size="5.3" fill="#262626">Synaptic vesicle cycle</text>
<circle cx="188.40" cy="452.61" r="1.3" fill="#c16877" stroke="#a45865" stroke-width="0.35"/>
<line x1="163.2" y1="460.08" x2="164.5" y2="460.08" stroke="#555" stroke-width="0.5"/>
<text transform="translate(161.80,462.38) scale(1,1.22)" text-anchor="end" class="r" font-size="5.3" fill="#262626">Vibrio cholerae infection</text>
<circle cx="193.60" cy="460.08" r="1.2" fill="#c16877" stroke="#a45865" stroke-width="0.35"/>
<line x1="163.2" y1="467.55" x2="164.5" y2="467.55" stroke="#555" stroke-width="0.5"/>
<text transform="translate(161.80,469.85) scale(1,1.22)" text-anchor="end" class="r" font-size="5.3" fill="#262626">Fc epsilon RI signaling pathway</text>
<circle cx="190.20" cy="467.55" r="1.2" fill="#be687a" stroke="#a25868" stroke-width="0.35"/>
<line x1="163.2" y1="475.02" x2="164.5" y2="475.02" stroke="#555" stroke-width="0.5"/>
<text transform="translate(161.80,477.32) scale(1,1.22)" text-anchor="end" class="r" font-size="5.3" fill="#262626">Platelet activation</text>
<circle cx="179.50" cy="475.02" r="1.6" fill="#b46684" stroke="#995770" stroke-width="0.35"/>
<line x1="163.2" y1="482.49" x2="164.5" y2="482.49" stroke="#555" stroke-width="0.5"/>
<text transform="translate(161.80,484.79) scale(1,1.22)" text-anchor="end" class="r" font-size="5.3" fill="#262626">Complement and coagulation cascades</text>
<circle cx="185.20" cy="482.49" r="1.4" fill="#ad658a" stroke="#935675" stroke-width="0.35"/>
<line x1="163.2" y1="489.96" x2="164.5" y2="489.96" stroke="#555" stroke-width="0.5"/>
<text transform="translate(161.80,492.26) scale(1,1.22)" text-anchor="end" class="r" font-size="5.3" fill="#262626">mTOR signaling pathway</text>
<circle cx="174.50" cy="489.96" r="1.8" fill="#845faf" stroke="#705195" stroke-width="0.35"/>
<line x1="163.2" y1="497.43" x2="164.5" y2="497.43" stroke="#555" stroke-width="0.5"/>
<text transform="translate(161.80,499.73) scale(1,1.22)" text-anchor="end" class="r" font-size="5.3" fill="#262626">Lysosome</text>
<circle cx="171.40" cy="497.43" r="1.9" fill="#695bc8" stroke="#594daa" stroke-width="0.35"/>
<line x1="164.10" y1="501.5" x2="164.10" y2="502.5" stroke="#555" stroke-width="0.4"/>
<text x="164.10" y="505.44" text-anchor="middle" class="s" font-size="2.6" fill="#333" stroke="#333" stroke-width="0.12">0.08</text>
<line x1="169.13" y1="501.5" x2="169.13" y2="502.5" stroke="#555" stroke-width="0.4"/>
<text x="169.13" y="505.44" text-anchor="middle" class="s" font-size="2.6" fill="#333" stroke="#333" stroke-width="0.12">0.09</text>
<line x1="174.15" y1="501.5" x2="174.15" y2="502.5" stroke="#555" stroke-width="0.4"/>
<text x="174.15" y="505.44" text-anchor="middle" class="s" font-size="2.6" fill="#333" stroke="#333" stroke-width="0.12">0.1</text>
<line x1="179.18" y1="501.5" x2="179.18" y2="502.5" stroke="#555" stroke-width="0.4"/>
<text x="179.18" y="505.44" text-anchor="middle" class="s" font-size="2.6" fill="#333" stroke="#333" stroke-width="0.12">0.11</text>
<line x1="184.21" y1="501.5" x2="184.21" y2="502.5" stroke="#555" stroke-width="0.4"/>
<text x="184.21" y="505.44" text-anchor="middle" class="s" font-size="2.6" fill="#333" stroke="#333" stroke-width="0.12">0.12</text>
<line x1="189.23" y1="501.5" x2="189.23" y2="502.5" stroke="#555" stroke-width="0.4"/>
<text x="189.23" y="505.44" text-anchor="middle" class="s" font-size="2.6" fill="#333" stroke="#333" stroke-width="0.12">0.13</text>
<line x1="194.26" y1="501.5" x2="194.26" y2="502.5" stroke="#555" stroke-width="0.4"/>
<text x="194.26" y="505.44" text-anchor="middle" class="s" font-size="2.6" fill="#333" stroke="#333" stroke-width="0.12">0.14</text>
<line x1="199.29" y1="501.5" x2="199.29" y2="502.5" stroke="#555" stroke-width="0.4"/>
<text x="199.29" y="505.44" text-anchor="middle" class="s" font-size="2.6" fill="#333" stroke="#333" stroke-width="0.12">0.15</text>
<line x1="204.31" y1="501.5" x2="204.31" y2="502.5" stroke="#555" stroke-width="0.4"/>
<text x="204.31" y="505.44" text-anchor="middle" class="s" font-size="2.6" fill="#333" stroke="#333" stroke-width="0.12">0.16</text>
<line x1="209.34" y1="501.5" x2="209.34" y2="502.5" stroke="#555" stroke-width="0.4"/>
<text x="209.34" y="505.44" text-anchor="middle" class="s" font-size="2.6" fill="#333" stroke="#333" stroke-width="0.12">0.17</text>
<line x1="214.37" y1="501.5" x2="214.37" y2="502.5" stroke="#555" stroke-width="0.4"/>
<text x="214.37" y="505.44" text-anchor="middle" class="s" font-size="2.6" fill="#333" stroke="#333" stroke-width="0.12">0.18</text>
<line x1="219.39" y1="501.5" x2="219.39" y2="502.5" stroke="#555" stroke-width="0.4"/>
<text x="219.39" y="505.44" text-anchor="middle" class="s" font-size="2.6" fill="#333" stroke="#333" stroke-width="0.12">0.19</text>
<line x1="224.42" y1="501.5" x2="224.42" y2="502.5" stroke="#555" stroke-width="0.4"/>
<text x="224.42" y="505.44" text-anchor="middle" class="s" font-size="2.6" fill="#333" stroke="#333" stroke-width="0.12">0.2</text>
<line x1="229.45" y1="501.5" x2="229.45" y2="502.5" stroke="#555" stroke-width="0.4"/>
<text x="229.45" y="505.44" text-anchor="middle" class="s" font-size="2.6" fill="#333" stroke="#333" stroke-width="0.12">0.21</text>
<line x1="234.47" y1="501.5" x2="234.47" y2="502.5" stroke="#555" stroke-width="0.4"/>
<text x="234.47" y="505.44" text-anchor="middle" class="s" font-size="2.6" fill="#333" stroke="#333" stroke-width="0.12">0.22</text>
<line x1="239.50" y1="501.5" x2="239.50" y2="502.5" stroke="#555" stroke-width="0.4"/>
<text x="239.50" y="505.44" text-anchor="middle" class="s" font-size="2.6" fill="#333" stroke="#333" stroke-width="0.12">0.23</text>
<text x="201.8" y="510.71" text-anchor="middle" class="s" font-size="3.07" font-weight="bold" fill="#111" stroke="#111" stroke-width="0.18">Rich Factor</text>
<text transform="translate(148.2,347.5) scale(1,1.2)" text-anchor="middle" class="r" font-size="5.39" fill="#111" stroke="#111" stroke-width="0.2">KEGG enrichment analysis(C2)</text>
<defs><linearGradient id="gc" x1="0" y1="0" x2="0" y2="1"><stop offset="0" stop-color="#625ace"/><stop offset="1" stop-color="#ea6e52"/></linearGradient></defs>
<text x="243.4" y="383.00" class="s" font-size="3.1" font-weight="bold" fill="#111" stroke="#111" stroke-width="0.22">Padjust</text>
<rect x="244.60" y="385.9" width="4.3" height="28.00" fill="url(#gc)"/>
<text x="250.3" y="387.40" class="s" font-size="3.1" fill="#222" stroke="#222" stroke-width="0.12">0.0800</text>
<line x1="249.50" y1="385.90" x2="250.40" y2="385.90" stroke="#444" stroke-width="0.35"/>
<text x="250.3" y="394.40" class="s" font-size="3.1" fill="#222" stroke="#222" stroke-width="0.12">0.0600</text>
<line x1="249.50" y1="392.90" x2="250.40" y2="392.90" stroke="#444" stroke-width="0.35"/>
<text x="250.3" y="401.40" class="s" font-size="3.1" fill="#222" stroke="#222" stroke-width="0.12">0.0400</text>
<line x1="249.50" y1="399.90" x2="250.40" y2="399.90" stroke="#444" stroke-width="0.35"/>
<text x="250.3" y="408.40" class="s" font-size="3.1" fill="#222" stroke="#222" stroke-width="0.12">0.0200</text>
<line x1="249.50" y1="406.90" x2="250.40" y2="406.90" stroke="#444" stroke-width="0.35"/>
<text x="250.3" y="415.40" class="s" font-size="3.1" fill="#222" stroke="#222" stroke-width="0.12">0.00</text>
<line x1="249.50" y1="413.90" x2="250.40" y2="413.90" stroke="#444" stroke-width="0.35"/>
<text x="243.4" y="428.80" class="s" font-size="3.1" font-weight="bold" fill="#111" stroke="#111" stroke-width="0.22">Number</text>
<circle cx="244.6" cy="432.80" r="0.6" fill="#111"/>
<text x="249.4" y="434.30" class="s" font-size="3.1" fill="#222" stroke="#222" stroke-width="0.12">4</text>
<circle cx="244.6" cy="437.70" r="1.2" fill="#111"/>
<text x="249.4" y="439.20" class="s" font-size="3.1" fill="#222" stroke="#222" stroke-width="0.12">17</text>
<circle cx="244.6" cy="443.40" r="1.6" fill="#111"/>
<text x="249.4" y="444.90" class="s" font-size="3.1" fill="#222" stroke="#222" stroke-width="0.12">27</text>
<circle cx="244.6" cy="450.00" r="2.0" fill="#111"/>
<text x="249.4" y="451.50" class="s" font-size="3.1" fill="#222" stroke="#222" stroke-width="0.12">38</text>
<rect x="428.5" y="360.5" width="84.0" height="144.0" fill="#fff"/>
<line x1="428.50" y1="360.5" x2="428.50" y2="504.5" stroke="#f1eeee" stroke-width="1"/>
<line x1="437.50" y1="360.5" x2="437.50" y2="504.5" stroke="#f1eeee" stroke-width="1"/>
<line x1="447.50" y1="360.5" x2="447.50" y2="504.5" stroke="#f1eeee" stroke-width="1"/>
<line x1="456.50" y1="360.5" x2="456.50" y2="504.5" stroke="#f1eeee" stroke-width="1"/>
<line x1="465.50" y1="360.5" x2="465.50" y2="504.5" stroke="#f1eeee" stroke-width="1"/>
<line x1="475.50" y1="360.5" x2="475.50" y2="504.5" stroke="#f1eeee" stroke-width="1"/>
<line x1="484.50" y1="360.5" x2="484.50" y2="504.5" stroke="#f1eeee" stroke-width="1"/>
<line x1="494.50" y1="360.5" x2="494.50" y2="504.5" stroke="#f1eeee" stroke-width="1"/>
<line x1="503.50" y1="360.5" x2="503.50" y2="504.5" stroke="#f1eeee" stroke-width="1"/>
<line x1="512.50" y1="360.5" x2="512.50" y2="504.5" stroke="#f1eeee" stroke-width="1"/>
<line x1="428.5" y1="364.50" x2="512.5" y2="364.50" stroke="#f1eeee" stroke-width="1"/>
<line x1="428.5" y1="371.50" x2="512.5" y2="371.50" stroke="#f1eeee" stroke-width="1"/>
<line x1="428.5" y1="378.50" x2="512.5" y2="378.50" stroke="#f1eeee" stroke-width="1"/>
<line x1="428.5" y1="385.50" x2="512.5" y2="385.50" stroke="#f1eeee" stroke-width="1"/>
<line x1="428.5" y1="392.50" x2="512.5" y2="392.50" stroke="#f1eeee" stroke-width="1"/>
<line x1="428.5" y1="400.50" x2="512.5" y2="400.50" stroke="#f1eeee" stroke-width="1"/>
<line x1="428.5" y1="407.50" x2="512.5" y2="407.50" stroke="#f1eeee" stroke-width="1"/>
<line x1="428.5" y1="414.50" x2="512.5" y2="414.50" stroke="#f1eeee" stroke-width="1"/>
<line x1="428.5" y1="421.50" x2="512.5" y2="421.50" stroke="#f1eeee" stroke-width="1"/>
<line x1="428.5" y1="428.50" x2="512.5" y2="428.50" stroke="#f1eeee" stroke-width="1"/>
<line x1="428.5" y1="435.50" x2="512.5" y2="435.50" stroke="#f1eeee" stroke-width="1"/>
<line x1="428.5" y1="442.50" x2="512.5" y2="442.50" stroke="#f1eeee" stroke-width="1"/>
<line x1="428.5" y1="450.50" x2="512.5" y2="450.50" stroke="#f1eeee" stroke-width="1"/>
<line x1="428.5" y1="457.50" x2="512.5" y2="457.50" stroke="#f1eeee" stroke-width="1"/>
<line x1="428.5" y1="464.50" x2="512.5" y2="464.50" stroke="#f1eeee" stroke-width="1"/>
<line x1="428.5" y1="471.50" x2="512.5" y2="471.50" stroke="#f1eeee" stroke-width="1"/>
<line x1="428.5" y1="478.50" x2="512.5" y2="478.50" stroke="#f1eeee" stroke-width="1"/>
<line x1="428.5" y1="485.50" x2="512.5" y2="485.50" stroke="#f1eeee" stroke-width="1"/>
<line x1="428.5" y1="493.50" x2="512.5" y2="493.50" stroke="#f1eeee" stroke-width="1"/>
<line x1="428.5" y1="500.50" x2="512.5" y2="500.50" stroke="#f1eeee" stroke-width="1"/>
<rect x="428.5" y="360.5" width="84.0" height="144.0" fill="none" stroke="#a4a4a4" stroke-width="1"/>
<line x1="427.2" y1="364.20" x2="428.5" y2="364.20" stroke="#555" stroke-width="0.5"/>
<text transform="translate(425.80,366.50) scale(1,1.22)" text-anchor="end" class="r" font-size="5.65" fill="#262626">Rheumatoid arthritis</text>
<circle cx="450.50" cy="364.20" r="2.8" fill="#ea6e52" stroke="#c75e46" stroke-width="0.35"/>
<line x1="427.2" y1="371.36" x2="428.5" y2="371.36" stroke="#555" stroke-width="0.5"/>
<text transform="translate(425.80,373.66) scale(1,1.22)" text-anchor="end" class="r" font-size="5.65" fill="#262626">Riboflavin metabolism</text>
<circle cx="504.20" cy="371.36" r="0.8" fill="#e76e54" stroke="#c45e47" stroke-width="0.35"/>
<line x1="427.2" y1="378.52" x2="428.5" y2="378.52" stroke="#555" stroke-width="0.5"/>
<text transform="translate(425.80,380.82) scale(1,1.22)" text-anchor="end" class="r" font-size="5.65" fill="#262626">Bladder cancer</text>
<circle cx="469.60" cy="378.52" r="1.9" fill="#e36d58" stroke="#c15d4b" stroke-width="0.35"/>
<line x1="427.2" y1="385.68" x2="428.5" y2="385.68" stroke="#555" stroke-width="0.5"/>
<text transform="translate(425.80,387.98) scale(1,1.22)" text-anchor="end" class="r" font-size="5.65" fill="#262626">Transcriptional misregulation in cancer</text>
<circle cx="445.40" cy="385.68" r="2.7" fill="#b46684" stroke="#995770" stroke-width="0.35"/>
<line x1="427.2" y1="392.84" x2="428.5" y2="392.84" stroke="#555" stroke-width="0.5"/>
<text transform="translate(425.80,395.14) scale(1,1.22)" text-anchor="end" class="r" font-size="5.65" fill="#262626">Collecting duct acid secretion</text>
<circle cx="469.80" cy="392.84" r="0.8" fill="#dc6c5e" stroke="#bb5c50" stroke-width="0.35"/>
<line x1="427.2" y1="400.00" x2="428.5" y2="400.00" stroke="#555" stroke-width="0.5"/>
<text transform="translate(425.80,402.30) scale(1,1.22)" text-anchor="end" class="r" font-size="5.65" fill="#262626">Prostate cancer</text>
<circle cx="448.20" cy="400.00" r="1.8" fill="#ad658a" stroke="#935675" stroke-width="0.35"/>
<line x1="427.2" y1="407.16" x2="428.5" y2="407.16" stroke="#555" stroke-width="0.5"/>
<text transform="translate(425.80,409.46) scale(1,1.22)" text-anchor="end" class="r" font-size="5.65" fill="#262626">Arginine and proline metabolism</text>
<circle cx="453.30" cy="407.16" r="0.7" fill="#ad658a" stroke="#935675" stroke-width="0.35"/>
<line x1="427.2" y1="414.32" x2="428.5" y2="414.32" stroke="#555" stroke-width="0.5"/>
<text transform="translate(425.80,416.62) scale(1,1.22)" text-anchor="end" class="r" font-size="5.65" fill="#262626">Vibrio cholerae infection</text>
<circle cx="453.30" cy="414.32" r="0.7" fill="#ad658a" stroke="#935675" stroke-width="0.35"/>
<line x1="427.2" y1="421.48" x2="428.5" y2="421.48" stroke="#555" stroke-width="0.5"/>
<text transform="translate(425.80,423.78) scale(1,1.22)" text-anchor="end" class="r" font-size="5.65" fill="#262626">Dilated cardiomyopathy</text>
<circle cx="448.70" cy="421.48" r="1.8" fill="#a66490" stroke="#8d557a" stroke-width="0.35"/>
<line x1="427.2" y1="428.64" x2="428.5" y2="428.64" stroke="#555" stroke-width="0.5"/>
<text transform="translate(425.80,430.94) scale(1,1.22)" text-anchor="end" class="r" font-size="5.65" fill="#262626">Leukocyte transendothelial migration</text>
<circle cx="448.70" cy="428.64" r="1.8" fill="#a66490" stroke="#8d557a" stroke-width="0.35"/>
<line x1="427.2" y1="435.80" x2="428.5" y2="435.80" stroke="#555" stroke-width="0.5"/>
<text transform="translate(425.80,438.10) scale(1,1.22)" text-anchor="end" class="r" font-size="5.65" fill="#262626">Hypertrophic cardiomyopathy</text>
<circle cx="450.00" cy="435.80" r="1.8" fill="#a66490" stroke="#8d557a" stroke-width="0.35"/>
<line x1="427.2" y1="442.96" x2="428.5" y2="442.96" stroke="#555" stroke-width="0.5"/>
<text transform="translate(425.80,445.26) scale(1,1.22)" text-anchor="end" class="r" font-size="5.65" fill="#262626">Lysosome</text>
<circle cx="444.90" cy="442.96" r="2.4" fill="#9f6396" stroke="#875480" stroke-width="0.35"/>
<line x1="427.2" y1="450.12" x2="428.5" y2="450.12" stroke="#555" stroke-width="0.5"/>
<text transform="translate(425.80,452.42) scale(1,1.22)" text-anchor="end" class="r" font-size="5.65" fill="#262626">Human papillomavirus infection</text>
<circle cx="443.60" cy="450.12" r="2.9" fill="#9f6396" stroke="#875480" stroke-width="0.35"/>
<line x1="427.2" y1="457.28" x2="428.5" y2="457.28" stroke="#555" stroke-width="0.5"/>
<text transform="translate(425.80,459.58) scale(1,1.22)" text-anchor="end" class="r" font-size="5.65" fill="#262626">Regulation of actin cytoskeleton</text>
<circle cx="444.40" cy="457.28" r="2.8" fill="#9f6396" stroke="#875480" stroke-width="0.35"/>
<line x1="427.2" y1="464.44" x2="428.5" y2="464.44" stroke="#555" stroke-width="0.5"/>
<text transform="translate(425.80,466.74) scale(1,1.22)" text-anchor="end" class="r" font-size="5.65" fill="#262626">Fluid shear stress and atherosclerosis</text>
<circle cx="445.60" cy="464.44" r="1.9" fill="#9f6396" stroke="#875480" stroke-width="0.35"/>
<line x1="427.2" y1="471.60" x2="428.5" y2="471.60" stroke="#555" stroke-width="0.5"/>
<text transform="translate(425.80,473.90) scale(1,1.22)" text-anchor="end" class="r" font-size="5.65" fill="#262626">Synaptic vesicle cycle</text>
<circle cx="449.40" cy="471.60" r="0.8" fill="#98629c" stroke="#815385" stroke-width="0.35"/>
<line x1="427.2" y1="478.76" x2="428.5" y2="478.76" stroke="#555" stroke-width="0.5"/>
<text transform="translate(425.80,481.06) scale(1,1.22)" text-anchor="end" class="r" font-size="5.65" fill="#262626">Epithelial cell signaling in Helicobacter pylori infection</text>
<circle cx="448.70" cy="478.76" r="0.8" fill="#9261a3" stroke="#7c528b" stroke-width="0.35"/>
<line x1="427.2" y1="485.92" x2="428.5" y2="485.92" stroke="#555" stroke-width="0.5"/>
<text transform="translate(425.80,488.22) scale(1,1.22)" text-anchor="end" class="r" font-size="5.65" fill="#262626">Axon guidance</text>
<circle cx="444.40" cy="485.92" r="1.9" fill="#7d5eb5" stroke="#6a509a" stroke-width="0.35"/>
<line x1="427.2" y1="493.08" x2="428.5" y2="493.08" stroke="#555" stroke-width="0.5"/>
<text transform="translate(425.80,495.38) scale(1,1.22)" text-anchor="end" class="r" font-size="5.65" fill="#262626">Motor proteins</text>
<circle cx="443.30" cy="493.08" r="1.9" fill="#765dbb" stroke="#644f9f" stroke-width="0.35"/>
<line x1="427.2" y1="500.24" x2="428.5" y2="500.24" stroke="#555" stroke-width="0.5"/>
<text transform="translate(425.80,502.54) scale(1,1.22)" text-anchor="end" class="r" font-size="5.65" fill="#262626">ECM-receptor interaction</text>
<circle cx="447.20" cy="500.24" r="1.2" fill="#765dbb" stroke="#644f9f" stroke-width="0.35"/>
<line x1="428.40" y1="504.5" x2="428.40" y2="505.5" stroke="#555" stroke-width="0.4"/>
<text x="428.40" y="509.75" text-anchor="middle" class="s" font-size="3.2" fill="#333" stroke="#333" stroke-width="0.12">-0.02</text>
<line x1="437.78" y1="504.5" x2="437.78" y2="505.5" stroke="#555" stroke-width="0.4"/>
<text x="437.78" y="509.75" text-anchor="middle" class="s" font-size="3.2" fill="#333" stroke="#333" stroke-width="0.12">0</text>
<line x1="447.16" y1="504.5" x2="447.16" y2="505.5" stroke="#555" stroke-width="0.4"/>
<text x="447.16" y="509.75" text-anchor="middle" class="s" font-size="3.2" fill="#333" stroke="#333" stroke-width="0.12">0.02</text>
<line x1="456.53" y1="504.5" x2="456.53" y2="505.5" stroke="#555" stroke-width="0.4"/>
<text x="456.53" y="509.75" text-anchor="middle" class="s" font-size="3.2" fill="#333" stroke="#333" stroke-width="0.12">0.04</text>
<line x1="465.91" y1="504.5" x2="465.91" y2="505.5" stroke="#555" stroke-width="0.4"/>
<text x="465.91" y="509.75" text-anchor="middle" class="s" font-size="3.2" fill="#333" stroke="#333" stroke-width="0.12">0.06</text>
<line x1="475.29" y1="504.5" x2="475.29" y2="505.5" stroke="#555" stroke-width="0.4"/>
<text x="475.29" y="509.75" text-anchor="middle" class="s" font-size="3.2" fill="#333" stroke="#333" stroke-width="0.12">0.08</text>
<line x1="484.67" y1="504.5" x2="484.67" y2="505.5" stroke="#555" stroke-width="0.4"/>
<text x="484.67" y="509.75" text-anchor="middle" class="s" font-size="3.2" fill="#333" stroke="#333" stroke-width="0.12">0.1</text>
<line x1="494.04" y1="504.5" x2="494.04" y2="505.5" stroke="#555" stroke-width="0.4"/>
<text x="494.04" y="509.75" text-anchor="middle" class="s" font-size="3.2" fill="#333" stroke="#333" stroke-width="0.12">0.12</text>
<line x1="503.42" y1="504.5" x2="503.42" y2="505.5" stroke="#555" stroke-width="0.4"/>
<text x="503.42" y="509.75" text-anchor="middle" class="s" font-size="3.2" fill="#333" stroke="#333" stroke-width="0.12">0.14</text>
<line x1="512.80" y1="504.5" x2="512.80" y2="505.5" stroke="#555" stroke-width="0.4"/>
<text x="512.80" y="509.75" text-anchor="middle" class="s" font-size="3.2" fill="#333" stroke="#333" stroke-width="0.12">0.16</text>
<text x="468.2" y="514.45" text-anchor="middle" class="s" font-size="3.47" font-weight="bold" fill="#111" stroke="#111" stroke-width="0.18">Rich Factor</text>
<text transform="translate(416.4,355.4) scale(1,1.2)" text-anchor="middle" class="r" font-size="5.67" fill="#111" stroke="#111" stroke-width="0.2">KEGG enrichment analysis(C3)</text>
<defs><linearGradient id="gd" x1="0" y1="0" x2="0" y2="1"><stop offset="0" stop-color="#625ace"/><stop offset="1" stop-color="#ea6e52"/></linearGradient></defs>
<text x="516.7" y="390.40" class="s" font-size="3.1" font-weight="bold" fill="#111" stroke="#111" stroke-width="0.22">Padjust</text>
<rect x="517.90" y="393.4" width="4.9" height="30.40" fill="url(#gd)"/>
<text x="524.0" y="395.50" class="s" font-size="3.1" fill="#222" stroke="#222" stroke-width="0.12">0.400</text>
<line x1="523.40" y1="394.00" x2="524.30" y2="394.00" stroke="#444" stroke-width="0.35"/>
<text x="524.0" y="399.73" class="s" font-size="3.1" fill="#222" stroke="#222" stroke-width="0.12">0.350</text>
<line x1="523.40" y1="398.23" x2="524.30" y2="398.23" stroke="#444" stroke-width="0.35"/>
<text x="524.0" y="403.96" class="s" font-size="3.1" fill="#222" stroke="#222" stroke-width="0.12">0.300</text>
<line x1="523.40" y1="402.46" x2="524.30" y2="402.46" stroke="#444" stroke-width="0.35"/>
<text x="524.0" y="408.19" class="s" font-size="3.1" fill="#222" stroke="#222" stroke-width="0.12">0.250</text>
<line x1="523.40" y1="406.69" x2="524.30" y2="406.69" stroke="#444" stroke-width="0.35"/>
<text x="524.0" y="412.41" class="s" font-size="3.1" fill="#222" stroke="#222" stroke-width="0.12">0.200</text>
<line x1="523.40" y1="410.91" x2="524.30" y2="410.91" stroke="#444" stroke-width="0.35"/>
<text x="524.0" y="416.64" class="s" font-size="3.1" fill="#222" stroke="#222" stroke-width="0.12">0.150</text>
<line x1="523.40" y1="415.14" x2="524.30" y2="415.14" stroke="#444" stroke-width="0.35"/>
<text x="524.0" y="420.87" class="s" font-size="3.1" fill="#222" stroke="#222" stroke-width="0.12">0.100</text>
<line x1="523.40" y1="419.37" x2="524.30" y2="419.37" stroke="#444" stroke-width="0.35"/>
<text x="524.0" y="425.10" class="s" font-size="3.1" fill="#222" stroke="#222" stroke-width="0.12">0.0500</text>
<line x1="523.40" y1="423.60" x2="524.30" y2="423.60" stroke="#444" stroke-width="0.35"/>
<text x="516.7" y="435.60" class="s" font-size="3.1" font-weight="bold" fill="#111" stroke="#111" stroke-width="0.22">Number</text>
<circle cx="517.9" cy="440.60" r="0.6" fill="#111"/>
<text x="522.2" y="442.10" class="s" font-size="3.1" fill="#222" stroke="#222" stroke-width="0.12">2</text>
<circle cx="517.9" cy="446.30" r="1.2" fill="#111"/>
<text x="522.2" y="447.80" class="s" font-size="3.1" fill="#222" stroke="#222" stroke-width="0.12">3</text>
<circle cx="517.9" cy="451.80" r="1.6" fill="#111"/>
<text x="522.2" y="453.30" class="s" font-size="3.1" fill="#222" stroke="#222" stroke-width="0.12">4</text>
<circle cx="517.9" cy="459.00" r="2.0" fill="#111"/>
<text x="522.2" y="460.50" class="s" font-size="3.1" fill="#222" stroke="#222" stroke-width="0.12">5</text>
<rect x="176.5" y="534.5" width="83.0" height="148.0" fill="#fff"/>
<line x1="177.50" y1="534.5" x2="177.50" y2="682.5" stroke="#f1eeee" stroke-width="1"/>
<line x1="184.50" y1="534.5" x2="184.50" y2="682.5" stroke="#f1eeee" stroke-width="1"/>
<line x1="190.50" y1="534.5" x2="190.50" y2="682.5" stroke="#f1eeee" stroke-width="1"/>
<line x1="197.50" y1="534.5" x2="197.50" y2="682.5" stroke="#f1eeee" stroke-width="1"/>
<line x1="204.50" y1="534.5" x2="204.50" y2="682.5" stroke="#f1eeee" stroke-width="1"/>
<line x1="211.50" y1="534.5" x2="211.50" y2="682.5" stroke="#f1eeee" stroke-width="1"/>
<line x1="218.50" y1="534.5" x2="218.50" y2="682.5" stroke="#f1eeee" stroke-width="1"/>
<line x1="225.50" y1="534.5" x2="225.50" y2="682.5" stroke="#f1eeee" stroke-width="1"/>
<line x1="232.50" y1="534.5" x2="232.50" y2="682.5" stroke="#f1eeee" stroke-width="1"/>
<line x1="238.50" y1="534.5" x2="238.50" y2="682.5" stroke="#f1eeee" stroke-width="1"/>
<line x1="245.50" y1="534.5" x2="245.50" y2="682.5" stroke="#f1eeee" stroke-width="1"/>
<line x1="252.50" y1="534.5" x2="252.50" y2="682.5" stroke="#f1eeee" stroke-width="1"/>
<line x1="259.50" y1="534.5" x2="259.50" y2="682.5" stroke="#f1eeee" stroke-width="1"/>
<line x1="176.5" y1="539.50" x2="259.5" y2="539.50" stroke="#f1eeee" stroke-width="1"/>
<line x1="176.5" y1="546.50" x2="259.5" y2="546.50" stroke="#f1eeee" stroke-width="1"/>
<line x1="176.5" y1="554.50" x2="259.5" y2="554.50" stroke="#f1eeee" stroke-width="1"/>
<line x1="176.5" y1="561.50" x2="259.5" y2="561.50" stroke="#f1eeee" stroke-width="1"/>
<line x1="176.5" y1="568.50" x2="259.5" y2="568.50" stroke="#f1eeee" stroke-width="1"/>
<line x1="176.5" y1="576.50" x2="259.5" y2="576.50" stroke="#f1eeee" stroke-width="1"/>
<line x1="176.5" y1="583.50" x2="259.5" y2="583.50" stroke="#f1eeee" stroke-width="1"/>
<line x1="176.5" y1="590.50" x2="259.5" y2="590.50" stroke="#f1eeee" stroke-width="1"/>
<line x1="176.5" y1="598.50" x2="259.5" y2="598.50" stroke="#f1eeee" stroke-width="1"/>
<line x1="176.5" y1="605.50" x2="259.5" y2="605.50" stroke="#f1eeee" stroke-width="1"/>
<line x1="176.5" y1="612.50" x2="259.5" y2="612.50" stroke="#f1eeee" stroke-width="1"/>
<line x1="176.5" y1="620.50" x2="259.5" y2="620.50" stroke="#f1eeee" stroke-width="1"/>
<line x1="176.5" y1="627.50" x2="259.5" y2="627.50" stroke="#f1eeee" stroke-width="1"/>
<line x1="176.5" y1="634.50" x2="259.5" y2="634.50" stroke="#f1eeee" stroke-width="1"/>
<line x1="176.5" y1="642.50" x2="259.5" y2="642.50" stroke="#f1eeee" stroke-width="1"/>
<line x1="176.5" y1="649.50" x2="259.5" y2="649.50" stroke="#f1eeee" stroke-width="1"/>
<line x1="176.5" y1="656.50" x2="259.5" y2="656.50" stroke="#f1eeee" stroke-width="1"/>
<line x1="176.5" y1="664.50" x2="259.5" y2="664.50" stroke="#f1eeee" stroke-width="1"/>
<line x1="176.5" y1="671.50" x2="259.5" y2="671.50" stroke="#f1eeee" stroke-width="1"/>
<line x1="176.5" y1="678.50" x2="259.5" y2="678.50" stroke="#f1eeee" stroke-width="1"/>
<rect x="176.5" y="534.5" width="83.0" height="148.0" fill="none" stroke="#a4a4a4" stroke-width="1"/>
<line x1="175.2" y1="539.60" x2="176.5" y2="539.60" stroke="#555" stroke-width="0.5"/>
<text transform="translate(173.80,541.90) scale(1,1.22)" text-anchor="end" class="r" font-size="6.22" fill="#262626">Amino sugar and nucleotide sugar metabolism</text>
<circle cx="202.50" cy="539.60" r="1.6" fill="#e36d58" stroke="#c15d4b" stroke-width="0.35"/>
<line x1="175.2" y1="546.93" x2="176.5" y2="546.93" stroke="#555" stroke-width="0.5"/>
<text transform="translate(173.80,549.23) scale(1,1.22)" text-anchor="end" class="r" font-size="6.22" fill="#262626">Focal adhesion</text>
<circle cx="192.30" cy="546.93" r="2.4" fill="#e36d58" stroke="#c15d4b" stroke-width="0.35"/>
<line x1="175.2" y1="554.26" x2="176.5" y2="554.26" stroke="#555" stroke-width="0.5"/>
<text transform="translate(173.80,556.56) scale(1,1.22)" text-anchor="end" class="r" font-size="6.22" fill="#262626">Chemokine signaling pathway</text>
<circle cx="192.30" cy="554.26" r="2.3" fill="#df6c5c" stroke="#be5c4e" stroke-width="0.35"/>
<line x1="175.2" y1="561.59" x2="176.5" y2="561.59" stroke="#555" stroke-width="0.5"/>
<text transform="translate(173.80,563.89) scale(1,1.22)" text-anchor="end" class="r" font-size="6.22" fill="#262626">Wnt signaling pathway</text>
<circle cx="192.70" cy="561.59" r="2.2" fill="#dc6c5e" stroke="#bb5c50" stroke-width="0.35"/>
<line x1="175.2" y1="568.92" x2="176.5" y2="568.92" stroke="#555" stroke-width="0.5"/>
<text transform="translate(173.80,571.22) scale(1,1.22)" text-anchor="end" class="r" font-size="6.22" fill="#262626">Prolactin signaling pathway</text>
<circle cx="198.20" cy="568.92" r="2.0" fill="#da6c61" stroke="#b95c52" stroke-width="0.35"/>
<line x1="175.2" y1="576.25" x2="176.5" y2="576.25" stroke="#555" stroke-width="0.5"/>
<text transform="translate(173.80,578.55) scale(1,1.22)" text-anchor="end" class="r" font-size="6.22" fill="#262626">Protein digestion and absorption</text>
<circle cx="193.80" cy="576.25" r="1.9" fill="#d66b65" stroke="#b65b56" stroke-width="0.35"/>
<line x1="175.2" y1="583.58" x2="176.5" y2="583.58" stroke="#555" stroke-width="0.5"/>
<text transform="translate(173.80,585.88) scale(1,1.22)" text-anchor="end" class="r" font-size="6.22" fill="#262626">Viral protein interaction with cytokine and cytokine receptor</text>
<circle cx="196.00" cy="583.58" r="1.5" fill="#9f6396" stroke="#875480" stroke-width="0.35"/>
<line x1="175.2" y1="590.91" x2="176.5" y2="590.91" stroke="#555" stroke-width="0.5"/>
<text transform="translate(173.80,593.21) scale(1,1.22)" text-anchor="end" class="r" font-size="6.22" fill="#262626">Axon guidance</text>
<circle cx="193.20" cy="590.91" r="2.4" fill="#a66490" stroke="#8d557a" stroke-width="0.35"/>
<line x1="175.2" y1="598.24" x2="176.5" y2="598.24" stroke="#555" stroke-width="0.5"/>
<text transform="translate(173.80,600.54) scale(1,1.22)" text-anchor="end" class="r" font-size="6.22" fill="#262626">Cytokine-cytokine receptor interaction</text>
<circle cx="189.50" cy="598.24" r="2.2" fill="#98629c" stroke="#815385" stroke-width="0.35"/>
<line x1="175.2" y1="605.57" x2="176.5" y2="605.57" stroke="#555" stroke-width="0.5"/>
<text transform="translate(173.80,607.87) scale(1,1.22)" text-anchor="end" class="r" font-size="6.22" fill="#262626">Aldosterone synthesis and secretion</text>
<circle cx="192.70" cy="605.57" r="1.8" fill="#98629c" stroke="#815385" stroke-width="0.35"/>
<line x1="175.2" y1="612.90" x2="176.5" y2="612.90" stroke="#555" stroke-width="0.5"/>
<text transform="translate(173.80,615.20) scale(1,1.22)" text-anchor="end" class="r" font-size="6.22" fill="#262626">Hypertrophic cardiomyopathy</text>
<circle cx="192.70" cy="612.90" r="1.8" fill="#98629c" stroke="#815385" stroke-width="0.35"/>
<line x1="175.2" y1="620.23" x2="176.5" y2="620.23" stroke="#555" stroke-width="0.5"/>
<text transform="translate(173.80,622.53) scale(1,1.22)" text-anchor="end" class="r" font-size="6.22" fill="#262626">Pyruvate metabolism</text>
<circle cx="199.30" cy="620.23" r="1.2" fill="#8b60a9" stroke="#765290" stroke-width="0.35"/>
<line x1="175.2" y1="627.56" x2="176.5" y2="627.56" stroke="#555" stroke-width="0.5"/>
<text transform="translate(173.80,629.86) scale(1,1.22)" text-anchor="end" class="r" font-size="6.22" fill="#262626">Virion - Lyssavirus</text>
<circle cx="252.30" cy="627.56" r="0.7" fill="#7d5eb5" stroke="#6a509a" stroke-width="0.35"/>
<line x1="175.2" y1="634.89" x2="176.5" y2="634.89" stroke="#555" stroke-width="0.5"/>
<text transform="translate(173.80,637.19) scale(1,1.22)" text-anchor="end" class="r" font-size="6.22" fill="#262626">Neomycin, kanamycin and gentamicin biosynthesis</text>
<circle cx="252.30" cy="634.89" r="0.7" fill="#7d5eb5" stroke="#6a509a" stroke-width="0.35"/>
<line x1="175.2" y1="642.22" x2="176.5" y2="642.22" stroke="#555" stroke-width="0.5"/>
<text transform="translate(173.80,644.52) scale(1,1.22)" text-anchor="end" class="r" font-size="6.22" fill="#262626">cGMP-PKG signaling pathway</text>
<circle cx="190.50" cy="642.22" r="2.1" fill="#8b60a9" stroke="#765290" stroke-width="0.35"/>
<line x1="175.2" y1="649.55" x2="176.5" y2="649.55" stroke="#555" stroke-width="0.5"/>
<text transform="translate(173.80,651.85) scale(1,1.22)" text-anchor="end" class="r" font-size="6.22" fill="#262626">Proteoglycans in cancer</text>
<circle cx="190.50" cy="649.55" r="2.3" fill="#8b60a9" stroke="#765290" stroke-width="0.35"/>
<line x1="175.2" y1="656.88" x2="176.5" y2="656.88" stroke="#555" stroke-width="0.5"/>
<text transform="translate(173.80,659.18) scale(1,1.22)" text-anchor="end" class="r" font-size="6.22" fill="#262626">Galactose metabolism</text>
<circle cx="202.50" cy="656.88" r="1.2" fill="#7d5eb5" stroke="#6a509a" stroke-width="0.35"/>
<line x1="175.2" y1="664.21" x2="176.5" y2="664.21" stroke="#555" stroke-width="0.5"/>
<text transform="translate(173.80,666.51) scale(1,1.22)" text-anchor="end" class="r" font-size="6.22" fill="#262626">Dilated cardiomyopathy</text>
<circle cx="191.60" cy="664.21" r="1.9" fill="#845faf" stroke="#705195" stroke-width="0.35"/>
<line x1="175.2" y1="671.54" x2="176.5" y2="671.54" stroke="#555" stroke-width="0.5"/>
<text transform="translate(173.80,673.84) scale(1,1.22)" text-anchor="end" class="r" font-size="6.22" fill="#262626">Hepatocellular carcinoma</text>
<circle cx="190.50" cy="671.54" r="1.9" fill="#845faf" stroke="#705195" stroke-width="0.35"/>
<line x1="175.2" y1="678.87" x2="176.5" y2="678.87" stroke="#555" stroke-width="0.5"/>
<text transform="translate(173.80,681.17) scale(1,1.22)" text-anchor="end" class="r" font-size="6.22" fill="#262626">Arrhythmogenic right ventricular cardiomyopathy</text>
<circle cx="193.40" cy="678.87" r="1.9" fill="#845faf" stroke="#705195" stroke-width="0.35"/>
<line x1="177.30" y1="682.5" x2="177.30" y2="683.5" stroke="#555" stroke-width="0.4"/>
<text x="177.30" y="687.34" text-anchor="middle" class="s" font-size="2.9" fill="#333" stroke="#333" stroke-width="0.12">-0.02</text>
<line x1="184.15" y1="682.5" x2="184.15" y2="683.5" stroke="#555" stroke-width="0.4"/>
<text x="184.15" y="687.34" text-anchor="middle" class="s" font-size="2.9" fill="#333" stroke="#333" stroke-width="0.12">0</text>
<line x1="191.00" y1="682.5" x2="191.00" y2="683.5" stroke="#555" stroke-width="0.4"/>
<text x="191.00" y="687.34" text-anchor="middle" class="s" font-size="2.9" fill="#333" stroke="#333" stroke-width="0.12">0.02</text>
<line x1="197.85" y1="682.5" x2="197.85" y2="683.5" stroke="#555" stroke-width="0.4"/>
<text x="197.85" y="687.34" text-anchor="middle" class="s" font-size="2.9" fill="#333" stroke="#333" stroke-width="0.12">0.04</text>
<line x1="204.70" y1="682.5" x2="204.70" y2="683.5" stroke="#555" stroke-width="0.4"/>
<text x="204.70" y="687.34" text-anchor="middle" class="s" font-size="2.9" fill="#333" stroke="#333" stroke-width="0.12">0.06</text>
<line x1="211.55" y1="682.5" x2="211.55" y2="683.5" stroke="#555" stroke-width="0.4"/>
<text x="211.55" y="687.34" text-anchor="middle" class="s" font-size="2.9" fill="#333" stroke="#333" stroke-width="0.12">0.08</text>
<line x1="218.40" y1="682.5" x2="218.40" y2="683.5" stroke="#555" stroke-width="0.4"/>
<text x="218.40" y="687.34" text-anchor="middle" class="s" font-size="2.9" fill="#333" stroke="#333" stroke-width="0.12">0.1</text>
<line x1="225.25" y1="682.5" x2="225.25" y2="683.5" stroke="#555" stroke-width="0.4"/>
<text x="225.25" y="687.34" text-anchor="middle" class="s" font-size="2.9" fill="#333" stroke="#333" stroke-width="0.12">0.12</text>
<line x1="232.10" y1="682.5" x2="232.10" y2="683.5" stroke="#555" stroke-width="0.4"/>
<text x="232.10" y="687.34" text-anchor="middle" class="s" font-size="2.9" fill="#333" stroke="#333" stroke-width="0.12">0.14</text>
<line x1="238.95" y1="682.5" x2="238.95" y2="683.5" stroke="#555" stroke-width="0.4"/>
<text x="238.95" y="687.34" text-anchor="middle" class="s" font-size="2.9" fill="#333" stroke="#333" stroke-width="0.12">0.16</text>
<line x1="245.80" y1="682.5" x2="245.80" y2="683.5" stroke="#555" stroke-width="0.4"/>
<text x="245.80" y="687.34" text-anchor="middle" class="s" font-size="2.9" fill="#333" stroke="#333" stroke-width="0.12">0.18</text>
<line x1="252.65" y1="682.5" x2="252.65" y2="683.5" stroke="#555" stroke-width="0.4"/>
<text x="252.65" y="687.34" text-anchor="middle" class="s" font-size="2.9" fill="#333" stroke="#333" stroke-width="0.12">0.2</text>
<line x1="259.50" y1="682.5" x2="259.50" y2="683.5" stroke="#555" stroke-width="0.4"/>
<text x="259.50" y="687.34" text-anchor="middle" class="s" font-size="2.9" fill="#333" stroke="#333" stroke-width="0.12">0.22</text>
<text x="218.0" y="692.30" text-anchor="middle" class="s" font-size="3.33" font-weight="bold" fill="#111" stroke="#111" stroke-width="0.18">Rich Factor</text>
<text transform="translate(148.6,530.7) scale(1,1.2)" text-anchor="middle" class="r" font-size="6.3" fill="#111" stroke="#111" stroke-width="0.2">KEGG enrichment analysis(C4)</text>
<defs><linearGradient id="ge" x1="0" y1="0" x2="0" y2="1"><stop offset="0" stop-color="#625ace"/><stop offset="1" stop-color="#ea6e52"/></linearGradient></defs>
<text x="263.5" y="565.40" class="s" font-size="3.1" font-weight="bold" fill="#111" stroke="#111" stroke-width="0.22">Padjust</text>
<rect x="264.80" y="568.4" width="4.6" height="30.20" fill="url(#ge)"/>
<text x="270.8" y="576.60" class="s" font-size="3.1" fill="#222" stroke="#222" stroke-width="0.12">0.300</text>
<line x1="270.00" y1="575.10" x2="270.90" y2="575.10" stroke="#444" stroke-width="0.35"/>
<text x="270.8" y="585.10" class="s" font-size="3.1" fill="#222" stroke="#222" stroke-width="0.12">0.200</text>
<line x1="270.00" y1="583.60" x2="270.90" y2="583.60" stroke="#444" stroke-width="0.35"/>
<text x="270.8" y="593.60" class="s" font-size="3.1" fill="#222" stroke="#222" stroke-width="0.12">0.100</text>
<line x1="270.00" y1="592.10" x2="270.90" y2="592.10" stroke="#444" stroke-width="0.35"/>
<text x="263.5" y="610.60" class="s" font-size="3.1" font-weight="bold" fill="#111" stroke="#111" stroke-width="0.22">Number</text>
<circle cx="264.8" cy="615.20" r="0.6" fill="#111"/>
<text x="269.5" y="616.70" class="s" font-size="3.1" fill="#222" stroke="#222" stroke-width="0.12">1</text>
<circle cx="264.8" cy="621.30" r="1.2" fill="#111"/>
<text x="269.5" y="622.80" class="s" font-size="3.1" fill="#222" stroke="#222" stroke-width="0.12">3</text>
<circle cx="264.8" cy="626.80" r="1.6" fill="#111"/>
<text x="269.5" y="628.30" class="s" font-size="3.1" fill="#222" stroke="#222" stroke-width="0.12">4</text>
<circle cx="264.8" cy="634.10" r="2.0" fill="#111"/>
<text x="269.5" y="635.60" class="s" font-size="3.1" fill="#222" stroke="#222" stroke-width="0.12">6</text>
<rect x="439.5" y="535.5" width="77.0" height="147.0" fill="#fff"/>
<line x1="439.50" y1="535.5" x2="439.50" y2="682.5" stroke="#f1eeee" stroke-width="1"/>
<line x1="446.50" y1="535.5" x2="446.50" y2="682.5" stroke="#f1eeee" stroke-width="1"/>
<line x1="452.50" y1="535.5" x2="452.50" y2="682.5" stroke="#f1eeee" stroke-width="1"/>
<line x1="459.50" y1="535.5" x2="459.50" y2="682.5" stroke="#f1eeee" stroke-width="1"/>
<line x1="465.50" y1="535.5" x2="465.50" y2="682.5" stroke="#f1eeee" stroke-width="1"/>
<line x1="471.50" y1="535.5" x2="471.50" y2="682.5" stroke="#f1eeee" stroke-width="1"/>
<line x1="478.50" y1="535.5" x2="478.50" y2="682.5" stroke="#f1eeee" stroke-width="1"/>
<line x1="484.50" y1="535.5" x2="484.50" y2="682.5" stroke="#f1eeee" stroke-width="1"/>
<line x1="491.50" y1="535.5" x2="491.50" y2="682.5" stroke="#f1eeee" stroke-width="1"/>
<line x1="497.50" y1="535.5" x2="497.50" y2="682.5" stroke="#f1eeee" stroke-width="1"/>
<line x1="503.50" y1="535.5" x2="503.50" y2="682.5" stroke="#f1eeee" stroke-width="1"/>
<line x1="510.50" y1="535.5" x2="510.50" y2="682.5" stroke="#f1eeee" stroke-width="1"/>
<line x1="516.50" y1="535.5" x2="516.50" y2="682.5" stroke="#f1eeee" stroke-width="1"/>
<line x1="439.5" y1="539.50" x2="516.5" y2="539.50" stroke="#f1eeee" stroke-width="1"/>
<line x1="439.5" y1="546.50" x2="516.5" y2="546.50" stroke="#f1eeee" stroke-width="1"/>
<line x1="439.5" y1="554.50" x2="516.5" y2="554.50" stroke="#f1eeee" stroke-width="1"/>
<line x1="439.5" y1="561.50" x2="516.5" y2="561.50" stroke="#f1eeee" stroke-width="1"/>
<line x1="439.5" y1="568.50" x2="516.5" y2="568.50" stroke="#f1eeee" stroke-width="1"/>
<line x1="439.5" y1="576.50" x2="516.5" y2="576.50" stroke="#f1eeee" stroke-width="1"/>
<line x1="439.5" y1="583.50" x2="516.5" y2="583.50" stroke="#f1eeee" stroke-width="1"/>
<line x1="439.5" y1="590.50" x2="516.5" y2="590.50" stroke="#f1eeee" stroke-width="1"/>
<line x1="439.5" y1="598.50" x2="516.5" y2="598.50" stroke="#f1eeee" stroke-width="1"/>
<line x1="439.5" y1="605.50" x2="516.5" y2="605.50" stroke="#f1eeee" stroke-width="1"/>
<line x1="439.5" y1="612.50" x2="516.5" y2="612.50" stroke="#f1eeee" stroke-width="1"/>
<line x1="439.5" y1="620.50" x2="516.5" y2="620.50" stroke="#f1eeee" stroke-width="1"/>
<line x1="439.5" y1="627.50" x2="516.5" y2="627.50" stroke="#f1eeee" stroke-width="1"/>
<line x1="439.5" y1="634.50" x2="516.5" y2="634.50" stroke="#f1eeee" stroke-width="1"/>
<line x1="439.5" y1="642.50" x2="516.5" y2="642.50" stroke="#f1eeee" stroke-width="1"/>
<line x1="439.5" y1="649.50" x2="516.5" y2="649.50" stroke="#f1eeee" stroke-width="1"/>
<line x1="439.5" y1="656.50" x2="516.5" y2="656.50" stroke="#f1eeee" stroke-width="1"/>
<line x1="439.5" y1="664.50" x2="516.5" y2="664.50" stroke="#f1eeee" stroke-width="1"/>
<line x1="439.5" y1="671.50" x2="516.5" y2="671.50" stroke="#f1eeee" stroke-width="1"/>
<line x1="439.5" y1="678.50" x2="516.5" y2="678.50" stroke="#f1eeee" stroke-width="1"/>
<rect x="439.5" y="535.5" width="77.0" height="147.0" fill="none" stroke="#a4a4a4" stroke-width="1"/>
<line x1="438.2" y1="539.60" x2="439.5" y2="539.60" stroke="#555" stroke-width="0.5"/>
<text transform="translate(436.80,541.90) scale(1,1.22)" text-anchor="end" class="r" font-size="6.42" fill="#262626">Choline metabolism in cancer</text>
<circle cx="451.80" cy="539.60" r="2.2" fill="#e36d58" stroke="#c15d4b" stroke-width="0.35"/>
<line x1="438.2" y1="546.93" x2="439.5" y2="546.93" stroke="#555" stroke-width="0.5"/>
<text transform="translate(436.80,549.23) scale(1,1.22)" text-anchor="end" class="r" font-size="6.42" fill="#262626">EGFR tyrosine kinase inhibitor resistance</text>
<circle cx="451.20" cy="546.93" r="1.8" fill="#df6c5c" stroke="#be5c4e" stroke-width="0.35"/>
<line x1="438.2" y1="554.26" x2="439.5" y2="554.26" stroke="#555" stroke-width="0.5"/>
<text transform="translate(436.80,556.56) scale(1,1.22)" text-anchor="end" class="r" font-size="6.42" fill="#262626">Colorectal cancer</text>
<circle cx="451.20" cy="554.26" r="1.8" fill="#df6c5c" stroke="#be5c4e" stroke-width="0.35"/>
<line x1="438.2" y1="561.59" x2="439.5" y2="561.59" stroke="#555" stroke-width="0.5"/>
<text transform="translate(436.80,563.89) scale(1,1.22)" text-anchor="end" class="r" font-size="6.42" fill="#262626">GnRH signaling pathway</text>
<circle cx="451.20" cy="561.59" r="1.8" fill="#da6c61" stroke="#b95c52" stroke-width="0.35"/>
<line x1="438.2" y1="568.92" x2="439.5" y2="568.92" stroke="#555" stroke-width="0.5"/>
<text transform="translate(436.80,571.22) scale(1,1.22)" text-anchor="end" class="r" font-size="6.42" fill="#262626">Insulin signaling pathway</text>
<circle cx="449.60" cy="568.92" r="2.1" fill="#ba677d" stroke="#9e586a" stroke-width="0.35"/>
<line x1="438.2" y1="576.25" x2="439.5" y2="576.25" stroke="#555" stroke-width="0.5"/>
<text transform="translate(436.80,578.55) scale(1,1.22)" text-anchor="end" class="r" font-size="6.42" fill="#262626">Phosphatidylinositol signaling system</text>
<circle cx="450.00" cy="576.25" r="2.0" fill="#b66681" stroke="#9b576e" stroke-width="0.35"/>
<line x1="438.2" y1="583.58" x2="439.5" y2="583.58" stroke="#555" stroke-width="0.5"/>
<text transform="translate(436.80,585.88) scale(1,1.22)" text-anchor="end" class="r" font-size="6.42" fill="#262626">Axon regeneration</text>
<circle cx="450.00" cy="583.58" r="1.8" fill="#b46684" stroke="#995770" stroke-width="0.35"/>
<line x1="438.2" y1="590.91" x2="439.5" y2="590.91" stroke="#555" stroke-width="0.5"/>
<text transform="translate(436.80,593.21) scale(1,1.22)" text-anchor="end" class="r" font-size="6.42" fill="#262626">ErbB signaling pathway</text>
<circle cx="450.00" cy="590.91" r="1.5" fill="#845faf" stroke="#705195" stroke-width="0.35"/>
<line x1="438.2" y1="598.24" x2="439.5" y2="598.24" stroke="#555" stroke-width="0.5"/>
<text transform="translate(436.80,600.54) scale(1,1.22)" text-anchor="end" class="r" font-size="6.42" fill="#262626">Polyketide sugar unit biosynthesis</text>
<circle cx="510.00" cy="598.24" r="0.7" fill="#7d5eb5" stroke="#6a509a" stroke-width="0.35"/>
<line x1="438.2" y1="605.57" x2="439.5" y2="605.57" stroke="#555" stroke-width="0.5"/>
<text transform="translate(436.80,607.87) scale(1,1.22)" text-anchor="end" class="r" font-size="6.42" fill="#262626">Valine, leucine and isoleucine degradation</text>
<circle cx="450.70" cy="605.57" r="1.3" fill="#7d5eb5" stroke="#6a509a" stroke-width="0.35"/>
<line x1="438.2" y1="612.90" x2="439.5" y2="612.90" stroke="#555" stroke-width="0.5"/>
<text transform="translate(436.80,615.20) scale(1,1.22)" text-anchor="end" class="r" font-size="6.42" fill="#262626">Longevity regulating pathway</text>
<circle cx="449.60" cy="612.90" r="1.8" fill="#7d5eb5" stroke="#6a509a" stroke-width="0.35"/>
<line x1="438.2" y1="620.23" x2="439.5" y2="620.23" stroke="#555" stroke-width="0.5"/>
<text transform="translate(436.80,622.53) scale(1,1.22)" text-anchor="end" class="r" font-size="6.42" fill="#262626">Phospholipase D signaling pathway</text>
<circle cx="449.20" cy="620.23" r="2.2" fill="#7d5eb5" stroke="#6a509a" stroke-width="0.35"/>
<line x1="438.2" y1="627.56" x2="439.5" y2="627.56" stroke="#555" stroke-width="0.5"/>
<text transform="translate(436.80,629.86) scale(1,1.22)" text-anchor="end" class="r" font-size="6.42" fill="#262626">Fc epsilon RI signaling pathway</text>
<circle cx="450.30" cy="627.56" r="1.5" fill="#7d5eb5" stroke="#6a509a" stroke-width="0.35"/>
<line x1="438.2" y1="634.89" x2="439.5" y2="634.89" stroke="#555" stroke-width="0.5"/>
<text transform="translate(436.80,637.19) scale(1,1.22)" text-anchor="end" class="r" font-size="6.42" fill="#262626">Endocrine resistance</text>
<circle cx="449.60" cy="634.89" r="1.8" fill="#7d5eb5" stroke="#6a509a" stroke-width="0.35"/>
<line x1="438.2" y1="642.22" x2="439.5" y2="642.22" stroke="#555" stroke-width="0.5"/>
<text transform="translate(436.80,644.52) scale(1,1.22)" text-anchor="end" class="r" font-size="6.42" fill="#262626">Neurotrophin signaling pathway</text>
<circle cx="449.20" cy="642.22" r="1.9" fill="#7d5eb5" stroke="#6a509a" stroke-width="0.35"/>
<line x1="438.2" y1="649.55" x2="439.5" y2="649.55" stroke="#555" stroke-width="0.5"/>
<text transform="translate(436.80,651.85) scale(1,1.22)" text-anchor="end" class="r" font-size="6.42" fill="#262626">TGF-beta signaling pathway</text>
<circle cx="449.20" cy="649.55" r="1.8" fill="#7d5eb5" stroke="#6a509a" stroke-width="0.35"/>
<line x1="438.2" y1="656.88" x2="439.5" y2="656.88" stroke="#555" stroke-width="0.5"/>
<text transform="translate(436.80,659.18) scale(1,1.22)" text-anchor="end" class="r" font-size="6.42" fill="#262626">Focal adhesion</text>
<circle cx="448.50" cy="656.88" r="2.3" fill="#7d5eb5" stroke="#6a509a" stroke-width="0.35"/>
<line x1="438.2" y1="664.21" x2="439.5" y2="664.21" stroke="#555" stroke-width="0.5"/>
<text transform="translate(436.80,666.51) scale(1,1.22)" text-anchor="end" class="r" font-size="6.42" fill="#262626">Carbohydrate digestion and absorption</text>
<circle cx="450.30" cy="664.21" r="1.2" fill="#7d5eb5" stroke="#6a509a" stroke-width="0.35"/>
<line x1="438.2" y1="671.54" x2="439.5" y2="671.54" stroke="#555" stroke-width="0.5"/>
<text transform="translate(436.80,673.84) scale(1,1.22)" text-anchor="end" class="r" font-size="6.42" fill="#262626">Glioma</text>
<circle cx="449.60" cy="671.54" r="1.5" fill="#7d5eb5" stroke="#6a509a" stroke-width="0.35"/>
<line x1="438.2" y1="678.87" x2="439.5" y2="678.87" stroke="#555" stroke-width="0.5"/>
<text transform="translate(436.80,681.17) scale(1,1.22)" text-anchor="end" class="r" font-size="6.42" fill="#262626">Endocytosis</text>
<circle cx="448.50" cy="678.87" r="2.5" fill="#7d5eb5" stroke="#6a509a" stroke-width="0.35"/>
<line x1="439.80" y1="682.5" x2="439.80" y2="683.5" stroke="#555" stroke-width="0.4"/>
<text x="439.80" y="687.18" text-anchor="middle" class="s" font-size="3.0" fill="#333" stroke="#333" stroke-width="0.12">-0.1</text>
<line x1="446.22" y1="682.5" x2="446.22" y2="683.5" stroke="#555" stroke-width="0.4"/>
<text x="446.22" y="687.18" text-anchor="middle" class="s" font-size="3.0" fill="#333" stroke="#333" stroke-width="0.12">0</text>
<line x1="452.63" y1="682.5" x2="452.63" y2="683.5" stroke="#555" stroke-width="0.4"/>
<text x="452.63" y="687.18" text-anchor="middle" class="s" font-size="3.0" fill="#333" stroke="#333" stroke-width="0.12">0.1</text>
<line x1="459.05" y1="682.5" x2="459.05" y2="683.5" stroke="#555" stroke-width="0.4"/>
<text x="459.05" y="687.18" text-anchor="middle" class="s" font-size="3.0" fill="#333" stroke="#333" stroke-width="0.12">0.2</text>
<line x1="465.47" y1="682.5" x2="465.47" y2="683.5" stroke="#555" stroke-width="0.4"/>
<text x="465.47" y="687.18" text-anchor="middle" class="s" font-size="3.0" fill="#333" stroke="#333" stroke-width="0.12">0.3</text>
<line x1="471.88" y1="682.5" x2="471.88" y2="683.5" stroke="#555" stroke-width="0.4"/>
<text x="471.88" y="687.18" text-anchor="middle" class="s" font-size="3.0" fill="#333" stroke="#333" stroke-width="0.12">0.4</text>
<line x1="478.30" y1="682.5" x2="478.30" y2="683.5" stroke="#555" stroke-width="0.4"/>
<text x="478.30" y="687.18" text-anchor="middle" class="s" font-size="3.0" fill="#333" stroke="#333" stroke-width="0.12">0.5</text>
<line x1="484.72" y1="682.5" x2="484.72" y2="683.5" stroke="#555" stroke-width="0.4"/>
<text x="484.72" y="687.18" text-anchor="middle" class="s" font-size="3.0" fill="#333" stroke="#333" stroke-width="0.12">0.6</text>
<line x1="491.13" y1="682.5" x2="491.13" y2="683.5" stroke="#555" stroke-width="0.4"/>
<text x="491.13" y="687.18" text-anchor="middle" class="s" font-size="3.0" fill="#333" stroke="#333" stroke-width="0.12">0.7</text>
<line x1="497.55" y1="682.5" x2="497.55" y2="683.5" stroke="#555" stroke-width="0.4"/>
<text x="497.55" y="687.18" text-anchor="middle" class="s" font-size="3.0" fill="#333" stroke="#333" stroke-width="0.12">0.8</text>
<line x1="503.97" y1="682.5" x2="503.97" y2="683.5" stroke="#555" stroke-width="0.4"/>
<text x="503.97" y="687.18" text-anchor="middle" class="s" font-size="3.0" fill="#333" stroke="#333" stroke-width="0.12">0.9</text>
<line x1="510.38" y1="682.5" x2="510.38" y2="683.5" stroke="#555" stroke-width="0.4"/>
<text x="510.38" y="687.18" text-anchor="middle" class="s" font-size="3.0" fill="#333" stroke="#333" stroke-width="0.12">1</text>
<line x1="516.80" y1="682.5" x2="516.80" y2="683.5" stroke="#555" stroke-width="0.4"/>
<text x="516.80" y="687.18" text-anchor="middle" class="s" font-size="3.0" fill="#333" stroke="#333" stroke-width="0.12">1.1</text>
<text x="478.2" y="692.85" text-anchor="middle" class="s" font-size="3.47" font-weight="bold" fill="#111" stroke="#111" stroke-width="0.18">Rich Factor</text>
<text transform="translate(428.2,530.7) scale(1,1.2)" text-anchor="middle" class="r" font-size="6.44" fill="#111" stroke="#111" stroke-width="0.2">KEGG enrichment analysis(C5)</text>
<defs><linearGradient id="gf" x1="0" y1="0" x2="0" y2="1"><stop offset="0" stop-color="#625ace"/><stop offset="1" stop-color="#ea6e52"/></linearGradient></defs>
<text x="521.5" y="565.00" class="s" font-size="3.1" font-weight="bold" fill="#111" stroke="#111" stroke-width="0.22">Padjust</text>
<rect x="522.30" y="568.4" width="4.5" height="30.20" fill="url(#gf)"/>
<text x="527.4" y="569.90" class="s" font-size="3.1" fill="#222" stroke="#222" stroke-width="0.12">0.700</text>
<line x1="527.40" y1="568.40" x2="528.30" y2="568.40" stroke="#444" stroke-width="0.35"/>
<text x="527.4" y="574.57" class="s" font-size="3.1" fill="#222" stroke="#222" stroke-width="0.12">0.600</text>
<line x1="527.40" y1="573.07" x2="528.30" y2="573.07" stroke="#444" stroke-width="0.35"/>
<text x="527.4" y="579.23" class="s" font-size="3.1" fill="#222" stroke="#222" stroke-width="0.12">0.500</text>
<line x1="527.40" y1="577.73" x2="528.30" y2="577.73" stroke="#444" stroke-width="0.35"/>
<text x="527.4" y="583.90" class="s" font-size="3.1" fill="#222" stroke="#222" stroke-width="0.12">0.400</text>
<line x1="527.40" y1="582.40" x2="528.30" y2="582.40" stroke="#444" stroke-width="0.35"/>
<text x="527.4" y="588.57" class="s" font-size="3.1" fill="#222" stroke="#222" stroke-width="0.12">0.300</text>
<line x1="527.40" y1="587.07" x2="528.30" y2="587.07" stroke="#444" stroke-width="0.35"/>
<text x="527.4" y="593.23" class="s" font-size="3.1" fill="#222" stroke="#222" stroke-width="0.12">0.200</text>
<line x1="527.40" y1="591.73" x2="528.30" y2="591.73" stroke="#444" stroke-width="0.35"/>
<text x="527.4" y="597.90" class="s" font-size="3.1" fill="#222" stroke="#222" stroke-width="0.12">0.100</text>
<line x1="527.40" y1="596.40" x2="528.30" y2="596.40" stroke="#444" stroke-width="0.35"/>
<text x="521.5" y="610.60" class="s" font-size="3.1" font-weight="bold" fill="#111" stroke="#111" stroke-width="0.22">Number</text>
<circle cx="522.3" cy="615.20" r="0.6" fill="#111"/>
<text x="527.0" y="616.70" class="s" font-size="3.1" fill="#222" stroke="#222" stroke-width="0.12">1</text>
<circle cx="522.3" cy="621.00" r="1.2" fill="#111"/>
<text x="527.0" y="622.50" class="s" font-size="3.1" fill="#222" stroke="#222" stroke-width="0.12">4</text>
<circle cx="522.3" cy="626.80" r="1.6" fill="#111"/>
<text x="527.0" y="628.30" class="s" font-size="3.1" fill="#222" stroke="#222" stroke-width="0.12">7</text>
<circle cx="522.3" cy="634.10" r="2.0" fill="#111"/>
<text x="527.0" y="635.60" class="s" font-size="3.1" fill="#222" stroke="#222" stroke-width="0.12">10</text>
<text x="324.6" y="18.4" class="L" font-size="16.5">g</text>
<rect x="336.20" y="27.20" width="41.25" height="11.79" fill="#c8e0ea"/>
<rect x="377.15" y="27.20" width="41.25" height="11.79" fill="#c8e0ea"/>
<rect x="418.10" y="27.20" width="41.25" height="11.79" fill="#7499bf"/>
<rect x="459.05" y="27.20" width="41.25" height="11.79" fill="#8fb0cf"/>
<text x="502.2" y="34.85" class="s" font-size="5.2" fill="#222">COL6A2</text>
<rect x="336.20" y="38.69" width="41.25" height="11.79" fill="#ef8a62"/>
<rect x="377.15" y="38.69" width="41.25" height="11.79" fill="#f4a070"/>
<rect x="418.10" y="38.69" width="41.25" height="11.79" fill="#fdd88a"/>
<rect x="459.05" y="38.69" width="41.25" height="11.79" fill="#fde2a0"/>
<text x="502.2" y="46.34" class="s" font-size="5.2" fill="#222">COL11A1</text>
<rect x="336.20" y="50.18" width="41.25" height="11.79" fill="#eef2d8"/>
<rect x="377.15" y="50.18" width="41.25" height="11.79" fill="#eef2d8"/>
<rect x="418.10" y="50.18" width="41.25" height="11.79" fill="#dcebef"/>
<rect x="459.05" y="50.18" width="41.25" height="11.79" fill="#dcebef"/>
<text x="502.2" y="57.83" class="s" font-size="5.2" fill="#222">ITGA3</text>
<rect x="336.20" y="61.68" width="41.25" height="11.79" fill="#ec7a5a"/>
<rect x="377.15" y="61.68" width="41.25" height="11.79" fill="#f09068"/>
<rect x="418.10" y="61.68" width="41.25" height="11.79" fill="#fdd88a"/>
<rect x="459.05" y="61.68" width="41.25" height="11.79" fill="#fdd88a"/>
<text x="502.2" y="69.32" class="s" font-size="5.2" fill="#222">COL6A3</text>
<rect x="336.20" y="73.17" width="41.25" height="11.79" fill="#fbf3c0"/>
<rect x="377.15" y="73.17" width="41.25" height="11.79" fill="#f3f0cc"/>
<rect x="418.10" y="73.17" width="41.25" height="11.79" fill="#e6f0e5"/>
<rect x="459.05" y="73.17" width="41.25" height="11.79" fill="#e8f0e0"/>
<text x="502.2" y="80.82" class="s" font-size="5.2" fill="#222">MYC</text>
<rect x="336.20" y="84.66" width="41.25" height="11.79" fill="#f3f0cc"/>
<rect x="377.15" y="84.66" width="41.25" height="11.79" fill="#fbf0b0"/>
<rect x="418.10" y="84.66" width="41.25" height="11.79" fill="#dcecf0"/>
<rect x="459.05" y="84.66" width="41.25" height="11.79" fill="#c8e0ea"/>
<text x="502.2" y="92.31" class="s" font-size="5.2" fill="#222">TRPV4</text>
<rect x="336.20" y="96.15" width="41.25" height="11.79" fill="#fdd990"/>
<rect x="377.15" y="96.15" width="41.25" height="11.79" fill="#fdd990"/>
<rect x="418.10" y="96.15" width="41.25" height="11.79" fill="#f5f3c8"/>
<rect x="459.05" y="96.15" width="41.25" height="11.79" fill="#f8f2b8"/>
<text x="502.2" y="103.80" class="s" font-size="5.2" fill="#222">COL8A1</text>
<rect x="336.20" y="107.65" width="41.25" height="11.79" fill="#fdd990"/>
<rect x="377.15" y="107.65" width="41.25" height="11.79" fill="#fdd990"/>
<rect x="418.10" y="107.65" width="41.25" height="11.79" fill="#fbf0b0"/>
<rect x="459.05" y="107.65" width="41.25" height="11.79" fill="#f9efb0"/>
<text x="502.2" y="115.29" class="s" font-size="5.2" fill="#222">COL15A1</text>
<rect x="336.20" y="119.14" width="41.25" height="11.79" fill="#e45a48"/>
<rect x="377.15" y="119.14" width="41.25" height="11.79" fill="#e86550"/>
<rect x="418.10" y="119.14" width="41.25" height="11.79" fill="#fdd48a"/>
<rect x="459.05" y="119.14" width="41.25" height="11.79" fill="#fdd48a"/>
<text x="502.2" y="126.78" class="s" font-size="5.2" fill="#222">COL12A1</text>
<rect x="336.20" y="130.63" width="41.25" height="11.79" fill="#ee8060"/>
<rect x="377.15" y="130.63" width="41.25" height="11.79" fill="#ef8562"/>
<rect x="418.10" y="130.63" width="41.25" height="11.79" fill="#fdd88e"/>
<rect x="459.05" y="130.63" width="41.25" height="11.79" fill="#fbc080"/>
<text x="502.2" y="138.28" class="s" font-size="5.2" fill="#222">COL5A1</text>
<rect x="336.20" y="142.12" width="41.25" height="11.79" fill="#d3302a"/>
<rect x="377.15" y="142.12" width="41.25" height="11.79" fill="#d83a30"/>
<rect x="418.10" y="142.12" width="41.25" height="11.79" fill="#ef8060"/>
<rect x="459.05" y="142.12" width="41.25" height="11.79" fill="#ec7058"/>
<text x="502.2" y="149.77" class="s" font-size="5.2" fill="#222">COL1A2</text>
<rect x="336.20" y="153.62" width="41.25" height="11.79" fill="#fbf0b8"/>
<rect x="377.15" y="153.62" width="41.25" height="11.79" fill="#f8f0c0"/>
<rect x="418.10" y="153.62" width="41.25" height="11.79" fill="#ecf2dc"/>
<rect x="459.05" y="153.62" width="41.25" height="11.79" fill="#eef2d8"/>
<text x="502.2" y="161.26" class="s" font-size="5.2" fill="#222">CCND3</text>
<rect x="336.20" y="165.11" width="41.25" height="11.79" fill="#fde3a0"/>
<rect x="377.15" y="165.11" width="41.25" height="11.79" fill="#fbeaaa"/>
<rect x="418.10" y="165.11" width="41.25" height="11.79" fill="#dcecee"/>
<rect x="459.05" y="165.11" width="41.25" height="11.79" fill="#d8e9ef"/>
<text x="502.2" y="172.75" class="s" font-size="5.2" fill="#222">NFATC2</text>
<rect x="336.20" y="176.60" width="41.25" height="11.79" fill="#7ca3c8"/>
<rect x="377.15" y="176.60" width="41.25" height="11.79" fill="#9cc2da"/>
<rect x="418.10" y="176.60" width="41.25" height="11.79" fill="#a8c8de"/>
<rect x="459.05" y="176.60" width="41.25" height="11.79" fill="#9cc0d8"/>
<text x="502.2" y="184.25" class="s" font-size="5.2" fill="#222">SOCS3</text>
<rect x="336.20" y="188.09" width="41.25" height="11.79" fill="#d9eaee"/>
<rect x="377.15" y="188.09" width="41.25" height="11.79" fill="#fbf0b0"/>
<rect x="418.10" y="188.09" width="41.25" height="11.79" fill="#eef2d8"/>
<rect x="459.05" y="188.09" width="41.25" height="11.79" fill="#eef2d6"/>
<text x="502.2" y="195.74" class="s" font-size="5.2" fill="#222">FGFR2</text>
<rect x="336.20" y="199.58" width="41.25" height="11.79" fill="#a9cade"/>
<rect x="377.15" y="199.58" width="41.25" height="11.79" fill="#fbf0b0"/>
<rect x="418.10" y="199.58" width="41.25" height="11.79" fill="#fdd890"/>
<rect x="459.05" y="199.58" width="41.25" height="11.79" fill="#fdd890"/>
<text x="502.2" y="207.23" class="s" font-size="5.2" fill="#222">RAC2</text>
<rect x="336.20" y="211.08" width="41.25" height="11.79" fill="#7ca3c8"/>
<rect x="377.15" y="211.08" width="41.25" height="11.79" fill="#80a6ca"/>
<rect x="418.10" y="211.08" width="41.25" height="11.79" fill="#7096c0"/>
<rect x="459.05" y="211.08" width="41.25" height="11.79" fill="#4a5ea8"/>
<text x="502.2" y="218.72" class="s" font-size="5.2" fill="#222">SEMA6A</text>
<rect x="336.20" y="222.57" width="41.25" height="11.79" fill="#f3f0cc"/>
<rect x="377.15" y="222.57" width="41.25" height="11.79" fill="#fbf0b0"/>
<rect x="418.10" y="222.57" width="41.25" height="11.79" fill="#fbefb0"/>
<rect x="459.05" y="222.57" width="41.25" height="11.79" fill="#f3f0cc"/>
<text x="502.2" y="230.22" class="s" font-size="5.2" fill="#222">ITGA10</text>
<rect x="336.20" y="234.06" width="41.25" height="11.79" fill="#eef2d8"/>
<rect x="377.15" y="234.06" width="41.25" height="11.79" fill="#fbf0b8"/>
<rect x="418.10" y="234.06" width="41.25" height="11.79" fill="#fdd890"/>
<rect x="459.05" y="234.06" width="41.25" height="11.79" fill="#fdd890"/>
<text x="502.2" y="241.71" class="s" font-size="5.2" fill="#222">SERPINE2</text>
<rect x="336.20" y="245.55" width="41.25" height="11.79" fill="#eef2d8"/>
<rect x="377.15" y="245.55" width="41.25" height="11.79" fill="#fbf0b0"/>
<rect x="418.10" y="245.55" width="41.25" height="11.79" fill="#fdd890"/>
<rect x="459.05" y="245.55" width="41.25" height="11.79" fill="#fdd890"/>
<text x="502.2" y="253.20" class="s" font-size="5.2" fill="#222">CSF1R</text>
<rect x="336.20" y="257.05" width="41.25" height="11.79" fill="#a9cade"/>
<rect x="377.15" y="257.05" width="41.25" height="11.79" fill="#dcecee"/>
<rect x="418.10" y="257.05" width="41.25" height="11.79" fill="#eef2d8"/>
<rect x="459.05" y="257.05" width="41.25" height="11.79" fill="#eef2d8"/>
<text x="502.2" y="264.69" class="s" font-size="5.2" fill="#222">PTK2B</text>
<rect x="336.20" y="268.54" width="41.25" height="11.79" fill="#f5f0c0"/>
<rect x="377.15" y="268.54" width="41.25" height="11.79" fill="#f3f0cc"/>
<rect x="418.10" y="268.54" width="41.25" height="11.79" fill="#e6f0e5"/>
<rect x="459.05" y="268.54" width="41.25" height="11.79" fill="#f3f0cc"/>
<text x="502.2" y="276.18" class="s" font-size="5.2" fill="#222">TRAPPC5</text>
<rect x="336.20" y="280.03" width="41.25" height="11.79" fill="#c4dde8"/>
<rect x="377.15" y="280.03" width="41.25" height="11.79" fill="#a0c2da"/>
<rect x="418.10" y="280.03" width="41.25" height="11.79" fill="#7ca3c8"/>
<rect x="459.05" y="280.03" width="41.25" height="11.79" fill="#9cc0d8"/>
<text x="502.2" y="287.68" class="s" font-size="5.2" fill="#222">WNT9A</text>
<rect x="336.20" y="291.52" width="41.25" height="11.79" fill="#b8d5e5"/>
<rect x="377.15" y="291.52" width="41.25" height="11.79" fill="#d8eaef"/>
<rect x="418.10" y="291.52" width="41.25" height="11.79" fill="#eef2d8"/>
<rect x="459.05" y="291.52" width="41.25" height="11.79" fill="#eef2d8"/>
<text x="502.2" y="299.17" class="s" font-size="5.2" fill="#222">PTPN6</text>
<rect x="336.20" y="303.02" width="41.25" height="11.79" fill="#a9cade"/>
<rect x="377.15" y="303.02" width="41.25" height="11.79" fill="#b8d5e5"/>
<rect x="418.10" y="303.02" width="41.25" height="11.79" fill="#eef2d8"/>
<rect x="459.05" y="303.02" width="41.25" height="11.79" fill="#dcecee"/>
<text x="502.2" y="310.66" class="s" font-size="5.2" fill="#222">VAV1</text>
<rect x="336.20" y="314.51" width="41.25" height="11.79" fill="#f3f0c0"/>
<rect x="377.15" y="314.51" width="41.25" height="11.79" fill="#e6f0e0"/>
<rect x="418.10" y="314.51" width="41.25" height="11.79" fill="#8fb3d0"/>
<rect x="459.05" y="314.51" width="41.25" height="11.79" fill="#c0dae6"/>
<text x="502.2" y="322.15" class="s" font-size="5.2" fill="#222">FZD2</text>
<text transform="translate(354.78,327.5) rotate(90)" class="s" font-size="5.2" fill="#333">RM</text>
<text transform="translate(395.73,327.5) rotate(90)" class="s" font-size="5.2" fill="#333">PC</text>
<text transform="translate(436.68,327.5) rotate(90)" class="s" font-size="5.2" fill="#333">TZ</text>
<text transform="translate(477.62,327.5) rotate(90)" class="s" font-size="5.2" fill="#333">CA</text>
<defs><linearGradient id="hmg" x1="0" y1="1" x2="0" y2="0"><stop offset="0" stop-color="#4575b4"/><stop offset="0.1667" stop-color="#91bfdb"/><stop offset="0.3333" stop-color="#e0f3f8"/><stop offset="0.5" stop-color="#ffffbf"/><stop offset="0.6667" stop-color="#fee090"/><stop offset="0.8333" stop-color="#fc8d59"/><stop offset="1" stop-color="#d73027"/></linearGradient></defs>
<rect x="529.2" y="27.2" width="4.8" height="56.8" fill="url(#hmg)"/>
<text x="536.2" y="37.70" class="s" font-size="5" fill="#333">5</text>
<text x="536.2" y="48.50" class="s" font-size="5" fill="#333">4</text>
<text x="536.2" y="59.30" class="s" font-size="5" fill="#333">3</text>
<text x="536.2" y="70.10" class="s" font-size="5" fill="#333">2</text>
<text x="536.2" y="80.90" class="s" font-size="5" fill="#333">1</text>
<text x="19.4" y="202.6" class="L" font-size="16.5">b</text>
<text x="19.0" y="345.8" class="L" font-size="16.5">c</text>
<text x="284.7" y="345.8" class="L" font-size="16.5">d</text>
<text x="13.7" y="543.9" class="L" font-size="16.5">e</text>
<text x="290.4" y="544.0" class="L" font-size="16.5">f</text>
</svg></body></html>
